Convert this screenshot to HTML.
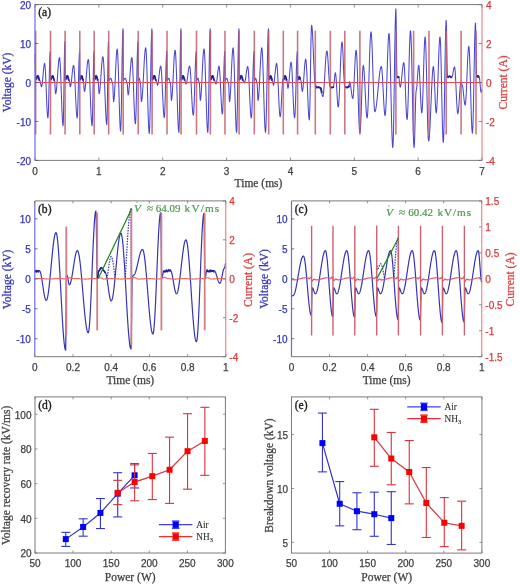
<!DOCTYPE html>
<html><head><meta charset="utf-8"><title>Figure</title>
<style>
html,body{margin:0;padding:0;background:#fff;}
body{width:520px;height:584px;overflow:hidden;}
svg{display:block;}
</style></head><body>
<svg width="520" height="584" viewBox="0 0 520 584">
<rect width="520" height="584" fill="#ffffff"/>
<polyline points="35.05,54.46 35.38,67.11 35.7,79.77 35.95,79.63 36.2,79.2 36.45,78.57 36.7,77.83 36.95,77.08 37.2,76.45 37.45,76.03 37.7,75.88 37.96,76.06 38.23,76.56 38.49,77.32 38.75,78.22 39.01,79.11 39.28,79.87 39.54,80.37 39.8,80.55 40.08,80.97 40.37,82.11 40.65,83.67 40.93,85.23 41.22,86.37 41.5,86.78 41.76,86.39 42.02,85.22 42.27,83.36 42.53,80.94 42.79,78.12 43.05,75.1 43.31,72.08 43.57,69.26 43.83,66.84 44.08,64.98 44.34,63.81 44.6,63.41 44.85,64.21 45.11,66.54 45.36,70.27 45.62,75.19 45.87,81.01 46.12,87.39 46.38,93.97 46.63,100.35 46.88,106.17 47.14,111.09 47.39,114.82 47.65,117.15 47.9,117.94 48.17,115.94 48.43,110.15 48.7,101.29 48.97,90.43 49.23,78.86 49.5,67.99 49.77,59.13 50.03,53.35 50.3,51.34 50.6,79.77 50.88,79.58 51.16,79.04 51.44,78.26 51.71,77.39 51.99,76.61 52.27,76.07 52.55,75.88 52.81,76.06 53.06,76.56 53.32,77.32 53.58,78.22 53.83,79.11 54.09,79.87 54.34,80.37 54.6,80.55 54.85,82.49 55.1,87.17 55.35,91.86 55.6,93.8 55.86,93.4 56.12,92.23 56.38,90.34 56.64,87.8 56.9,84.74 57.16,81.28 57.42,77.58 57.68,73.79 57.94,70.09 58.2,66.63 58.46,63.56 58.72,61.03 58.98,59.14 59.24,57.97 59.5,57.57 59.76,58.43 60.01,60.95 60.27,65.01 60.53,70.4 60.79,76.87 61.04,84.07 61.3,91.65 61.56,99.24 61.81,106.44 62.07,112.9 62.33,118.3 62.59,122.36 62.84,124.88 63.1,125.73 63.36,121.57 63.61,109.9 63.87,93.03 64.13,74.31 64.39,57.44 64.64,45.77 64.9,41.6 65.2,79.77 65.45,79.63 65.7,79.2 65.95,78.57 66.2,77.83 66.45,77.08 66.7,76.45 66.95,76.03 67.2,75.88 67.46,76.06 67.72,76.56 67.99,77.32 68.25,78.22 68.51,79.11 68.77,79.87 69.04,80.37 69.3,80.55 69.55,81.47 69.8,83.67 70.05,85.87 70.3,86.78 70.55,86.47 70.81,85.56 71.06,84.09 71.32,82.16 71.57,79.87 71.82,77.36 72.08,74.78 72.33,72.27 72.58,69.99 72.84,68.06 73.09,66.59 73.35,65.67 73.6,65.36 73.86,66.02 74.11,67.97 74.37,71.1 74.63,75.26 74.89,80.25 75.14,85.8 75.4,91.65 75.66,97.5 75.91,103.06 76.17,108.05 76.43,112.21 76.69,115.34 76.94,117.29 77.2,117.94 77.47,115.94 77.73,110.15 78,101.29 78.27,90.43 78.53,78.86 78.8,67.99 79.07,59.13 79.33,53.35 79.6,51.34 79.9,79.77 80.18,79.51 80.47,78.8 80.75,77.83 81.03,76.85 81.32,76.14 81.6,75.88 81.86,76.11 82.11,76.76 82.37,77.7 82.63,78.74 82.89,79.67 83.14,80.32 83.4,80.55 83.65,82.15 83.9,86.01 84.15,89.86 84.4,91.46 84.66,91.11 84.92,90.08 85.18,88.41 85.44,86.17 85.7,83.47 85.96,80.42 86.22,77.16 86.48,73.82 86.74,70.55 87,67.5 87.26,64.8 87.52,62.57 87.78,60.9 88.04,59.87 88.3,59.52 88.55,60.24 88.81,62.38 89.06,65.84 89.31,70.47 89.57,76.07 89.82,82.4 90.07,89.17 90.33,96.09 90.58,102.86 90.83,109.18 91.09,114.78 91.34,119.41 91.59,122.87 91.85,125.01 92.1,125.73 92.37,122.05 92.64,111.73 92.91,96.81 93.19,80.26 93.46,65.35 93.73,55.02 94,51.34 94.3,79.77 94.56,79.58 94.83,79.04 95.09,78.26 95.36,77.39 95.62,76.61 95.89,76.07 96.15,75.88 96.43,76.11 96.71,76.76 96.99,77.7 97.26,78.74 97.54,79.67 97.82,80.32 98.1,80.55 98.35,82.49 98.6,87.17 98.85,91.86 99.1,93.8 99.35,93.39 99.61,92.2 99.86,90.26 100.11,87.67 100.37,84.54 100.62,81.01 100.87,77.23 101.13,73.36 101.38,69.58 101.63,66.04 101.89,62.91 102.14,60.33 102.39,58.39 102.65,57.2 102.9,56.79 103.16,57.53 103.42,59.72 103.68,63.26 103.94,68.01 104.2,73.74 104.46,80.21 104.72,87.14 104.98,94.22 105.24,101.15 105.5,107.62 105.76,113.35 106.02,118.09 106.28,121.64 106.54,123.83 106.8,124.57 107.08,119.01 107.37,103.83 107.65,83.08 107.93,62.34 108.22,47.16 108.5,41.6 108.8,80.55 109.06,80.44 109.33,80.11 109.59,79.64 109.86,79.12 110.12,78.66 110.39,78.33 110.65,78.22 110.93,78.43 111.21,79.02 111.49,79.88 111.76,80.83 112.04,81.69 112.32,82.29 112.6,82.5 112.85,85.3 113.1,92.04 113.35,98.79 113.6,101.59 113.86,100.93 114.11,98.98 114.37,95.85 114.63,91.69 114.89,86.7 115.14,81.14 115.4,75.29 115.66,69.44 115.91,63.89 116.17,58.9 116.43,54.74 116.69,51.61 116.94,49.66 117.2,49 117.46,50.2 117.72,53.71 117.98,59.34 118.25,66.75 118.51,75.52 118.77,85.14 119.03,95.05 119.29,104.67 119.55,113.44 119.82,120.85 120.08,126.48 120.34,129.99 120.6,131.19 120.87,128.1 121.13,119.2 121.4,105.58 121.67,88.86 121.93,71.07 122.2,54.36 122.47,40.73 122.73,31.84 123,28.75 123.3,80.55 123.56,80.44 123.83,80.11 124.09,79.64 124.36,79.12 124.62,78.66 124.89,78.33 125.15,78.22 125.43,78.43 125.71,79.02 125.99,79.88 126.26,80.83 126.54,81.69 126.82,82.29 127.1,82.5 127.43,85.62 127.77,91.85 128.1,94.96 128.36,94.5 128.63,93.11 128.89,90.89 129.16,87.92 129.42,84.38 129.69,80.43 129.95,76.27 130.21,72.11 130.48,68.16 130.74,64.61 131.01,61.65 131.27,59.42 131.54,58.04 131.8,57.57 132.06,58.4 132.31,60.85 132.57,64.8 132.83,70.04 133.09,76.31 133.34,83.31 133.6,90.68 133.86,98.05 134.11,105.04 134.37,111.32 134.63,116.56 134.89,120.51 135.14,122.96 135.4,123.79 135.66,121.78 135.92,115.94 136.18,106.85 136.44,95.39 136.7,82.69 136.96,70 137.22,58.54 137.48,49.45 137.74,43.61 138,41.6 138.3,80.55 138.55,80.21 138.8,79.38 139.05,78.56 139.3,78.22 139.57,78.84 139.85,80.36 140.12,81.87 140.4,82.5 140.65,85.3 140.9,92.04 141.15,98.79 141.4,101.59 141.65,101.13 141.91,99.77 142.16,97.56 142.41,94.57 142.66,90.91 142.92,86.69 143.17,82.06 143.42,77.19 143.68,72.23 143.93,67.36 144.18,62.73 144.44,58.51 144.69,54.85 144.94,51.86 145.19,49.65 145.45,48.29 145.7,47.83 145.96,48.91 146.21,52.08 146.47,57.18 146.73,63.97 146.99,72.09 147.24,81.15 147.5,90.68 147.76,100.21 148.01,109.27 148.27,117.39 148.53,124.18 148.79,129.28 149.04,132.45 149.3,133.52 149.56,130.96 149.82,123.52 150.08,111.93 150.34,97.33 150.6,81.14 150.86,64.95 151.12,50.34 151.38,38.75 151.64,31.31 151.9,28.75 152.2,79.77 152.45,79.63 152.7,79.2 152.95,78.57 153.2,77.83 153.45,77.08 153.7,76.45 153.95,76.03 154.2,75.88 154.46,76.06 154.72,76.56 154.99,77.32 155.25,78.22 155.51,79.11 155.77,79.87 156.04,80.37 156.3,80.55 156.6,81.24 156.9,82.89 157.2,84.54 157.5,85.23 157.77,84.9 158.03,83.95 158.3,82.43 158.57,80.46 158.83,78.15 159.1,75.68 159.37,73.21 159.63,70.91 159.9,68.94 160.17,67.42 160.43,66.47 160.7,66.14 160.96,66.79 161.21,68.69 161.47,71.75 161.73,75.82 161.99,80.69 162.24,86.13 162.5,91.85 162.76,97.57 163.01,103 163.27,107.88 163.53,111.95 163.79,115.01 164.04,116.91 164.3,117.56 164.55,115.93 164.8,111.23 165.05,103.91 165.3,94.68 165.55,84.45 165.8,74.22 166.05,64.99 166.3,57.66 166.55,52.96 166.8,51.34 167.1,80.55 167.37,80.4 167.63,79.97 167.9,79.38 168.17,78.8 168.43,78.37 168.7,78.22 168.98,78.5 169.27,79.29 169.55,80.36 169.83,81.43 170.12,82.21 170.4,82.5 170.65,85.12 170.9,91.46 171.15,97.79 171.4,100.42 171.66,99.79 171.93,97.93 172.19,94.94 172.46,90.96 172.72,86.19 172.99,80.88 173.25,75.29 173.51,69.7 173.78,64.39 174.04,59.63 174.31,55.65 174.57,52.66 174.84,50.8 175.1,50.17 175.35,51.07 175.61,53.72 175.86,58.02 176.11,63.77 176.37,70.72 176.62,78.57 176.87,86.97 177.13,95.56 177.38,103.96 177.63,111.81 177.89,118.76 178.14,124.51 178.39,128.8 178.65,131.46 178.9,132.36 179.15,128.41 179.4,117.18 179.65,100.38 179.9,80.55 180.15,60.73 180.4,43.92 180.65,32.69 180.9,28.75 181.2,79.77 181.46,79.58 181.73,79.04 181.99,78.26 182.26,77.39 182.52,76.61 182.79,76.07 183.05,75.88 183.33,76.11 183.61,76.76 183.89,77.7 184.16,78.74 184.44,79.67 184.72,80.32 185,80.55 185.25,81.07 185.5,82.31 185.75,83.54 186,84.06 186.26,83.83 186.51,83.17 186.77,82.1 187.03,80.69 187.29,78.99 187.54,77.09 187.8,75.1 188.06,73.11 188.31,71.21 188.57,69.51 188.83,68.1 189.09,67.03 189.34,66.37 189.6,66.14 189.86,66.76 190.13,68.57 190.39,71.49 190.66,75.38 190.92,80.03 191.19,85.22 191.45,90.68 191.71,96.14 191.98,101.33 192.24,105.98 192.51,109.86 192.77,112.79 193.04,114.6 193.3,115.22 193.55,114.13 193.8,110.94 194.05,105.86 194.3,99.25 194.55,91.55 194.8,83.28 195.05,75.01 195.3,67.31 195.55,60.69 195.8,55.62 196.05,52.43 196.3,51.34 196.6,80.55 196.86,80.33 197.12,79.75 197.38,79.02 197.64,78.44 197.9,78.22 198.18,78.62 198.46,79.7 198.74,81.02 199.02,82.09 199.3,82.5 199.55,85.12 199.8,91.46 200.05,97.79 200.3,100.42 200.56,99.77 200.83,97.87 201.09,94.81 201.36,90.74 201.62,85.86 201.89,80.43 202.15,74.71 202.41,68.99 202.68,63.56 202.94,58.68 203.21,54.61 203.47,51.55 203.74,49.65 204,49 204.25,49.91 204.51,52.61 204.76,56.96 205.01,62.79 205.27,69.84 205.52,77.8 205.77,86.32 206.03,95.04 206.28,103.56 206.53,111.52 206.79,118.57 207.04,124.4 207.29,128.75 207.55,131.45 207.8,132.36 208.07,129.23 208.33,120.24 208.6,106.45 208.87,89.55 209.13,71.56 209.4,54.65 209.67,40.87 209.93,31.87 210.2,28.75 210.5,79.77 210.75,79.63 211,79.2 211.25,78.57 211.5,77.83 211.75,77.08 212,76.45 212.25,76.03 212.5,75.88 212.76,76.06 213.03,76.56 213.29,77.32 213.55,78.22 213.81,79.11 214.07,79.87 214.34,80.37 214.6,80.55 214.88,80.89 215.16,81.76 215.44,82.85 215.72,83.72 216,84.06 216.25,83.75 216.5,82.86 216.75,81.43 217,79.58 217.25,77.42 217.5,75.1 217.75,72.78 218,70.62 218.25,68.76 218.5,67.34 218.75,66.45 219,66.14 219.26,66.84 219.52,68.88 219.78,72.17 220.05,76.49 220.31,81.6 220.57,87.21 220.83,92.98 221.09,98.59 221.35,103.7 221.62,108.03 221.88,111.31 222.14,113.35 222.4,114.05 222.67,112.16 222.93,106.71 223.2,98.37 223.47,88.14 223.73,77.25 224,67.02 224.27,58.68 224.53,53.23 224.8,51.34 225.1,80.55 225.38,80.4 225.65,79.97 225.93,79.38 226.2,78.8 226.47,78.37 226.75,78.22 227,78.43 227.25,79.02 227.5,79.88 227.75,80.83 228,81.69 228.25,82.29 228.5,82.5 228.75,85.3 229,92.04 229.25,98.79 229.5,101.59 229.76,100.91 230.01,98.92 230.27,95.72 230.53,91.47 230.79,86.37 231.04,80.69 231.3,74.71 231.56,68.73 231.81,63.05 232.07,57.95 232.33,53.7 232.59,50.5 232.84,48.51 233.1,47.83 233.35,48.89 233.6,52.02 233.85,57.05 234.1,63.75 234.35,71.76 234.6,80.69 234.85,90.1 235.1,99.5 235.35,108.43 235.6,116.44 235.85,123.14 236.1,128.17 236.35,131.3 236.6,132.36 236.86,129.23 237.11,120.24 237.37,106.45 237.62,89.55 237.88,71.56 238.13,54.65 238.39,40.87 238.64,31.87 238.9,28.75 239.2,79.77 239.45,79.63 239.7,79.2 239.95,78.57 240.2,77.83 240.45,77.08 240.7,76.45 240.95,76.03 241.2,75.88 241.46,76.06 241.72,76.56 241.99,77.32 242.25,78.22 242.51,79.11 242.77,79.87 243.04,80.37 243.3,80.55 243.57,80.89 243.85,81.72 244.12,82.55 244.4,82.89 244.65,82.65 244.91,81.95 245.16,80.83 245.42,79.36 245.67,77.61 245.92,75.7 246.18,73.72 246.43,71.81 246.68,70.06 246.94,68.59 247.19,67.47 247.45,66.77 247.7,66.53 247.96,67.18 248.21,69.08 248.47,72.14 248.73,76.21 248.99,81.08 249.24,86.52 249.5,92.24 249.76,97.96 250.01,103.39 250.27,108.27 250.53,112.34 250.79,115.4 251.04,117.3 251.3,117.94 251.55,116.6 251.81,112.66 252.06,106.45 252.32,98.48 252.57,89.38 252.83,79.9 253.08,70.81 253.34,62.83 253.59,56.63 253.85,52.69 254.1,51.34 254.4,80.55 254.65,80.33 254.9,79.75 255.15,79.02 255.4,78.44 255.65,78.22 255.92,78.62 256.19,79.7 256.46,81.02 256.73,82.09 257,82.5 257.25,85.12 257.5,91.46 257.75,97.79 258,100.42 258.25,99.84 258.51,98.14 258.76,95.4 259.01,91.72 259.27,87.27 259.52,82.25 259.77,76.87 260.03,71.38 260.28,66 260.53,60.98 260.79,56.53 261.04,52.86 261.29,50.11 261.55,48.41 261.8,47.83 262.06,48.89 262.33,52.02 262.59,57.05 262.86,63.75 263.12,71.76 263.39,80.69 263.65,90.1 263.91,99.5 264.18,108.43 264.44,116.44 264.71,123.14 264.97,128.17 265.24,131.3 265.5,132.36 265.75,130.59 266,125.42 266.25,117.18 266.5,106.45 266.75,93.96 267,80.55 267.25,67.14 267.5,54.65 267.75,43.92 268,35.69 268.25,30.51 268.5,28.75 268.8,79.77 269.05,79.58 269.3,79.04 269.55,78.26 269.8,77.39 270.05,76.61 270.3,76.07 270.55,75.88 270.81,76.11 271.08,76.76 271.34,77.7 271.61,78.74 271.87,79.67 272.14,80.32 272.4,80.55 272.65,81.24 272.9,82.89 273.15,84.54 273.4,85.23 273.67,84.85 273.93,83.77 274.2,82.03 274.47,79.77 274.73,77.14 275,74.32 275.27,71.5 275.53,68.87 275.8,66.61 276.07,64.88 276.33,63.79 276.6,63.41 276.86,64.08 277.11,66.06 277.37,69.24 277.63,73.46 277.89,78.52 278.14,84.16 278.4,90.1 278.66,96.03 278.91,101.67 279.17,106.73 279.43,110.96 279.69,114.13 279.94,116.11 280.2,116.78 280.46,116 280.73,113.75 280.99,110.19 281.25,105.62 281.52,100.41 281.78,94.97 282.05,89.76 282.31,85.19 282.57,81.63 282.84,79.38 283.1,78.61 283.4,79.77 283.68,79.51 283.97,78.8 284.25,77.83 284.53,76.85 284.82,76.14 285.1,75.88 285.36,76.11 285.61,76.76 285.87,77.7 286.13,78.74 286.39,79.67 286.64,80.32 286.9,80.55 287.15,81.69 287.4,84.45 287.65,87.2 287.9,88.34 288.17,87.9 288.43,86.59 288.7,84.52 288.97,81.82 289.23,78.67 289.5,75.29 289.77,71.92 290.03,68.77 290.3,66.07 290.57,63.99 290.83,62.69 291.1,62.25 291.35,62.94 291.6,65 291.85,68.32 292.1,72.73 292.35,78.01 292.6,83.9 292.85,90.1 293.1,96.29 293.35,102.18 293.6,107.46 293.85,111.87 294.1,115.19 294.35,117.25 294.6,117.94 294.85,116.6 295.11,112.66 295.36,106.45 295.62,98.48 295.87,89.38 296.13,79.9 296.38,70.81 296.64,62.83 296.89,56.63 297.15,52.69 297.4,51.34 297.7,79.77 297.97,79.58 298.23,79.04 298.5,78.31 298.77,77.58 299.03,77.05 299.3,76.85 299.57,77.1 299.83,77.78 300.1,78.7 300.37,79.63 300.63,80.3 300.9,80.55 301.18,81.59 301.46,84.32 301.74,87.69 302.02,90.42 302.3,91.46 302.56,90.99 302.82,89.61 303.08,87.39 303.35,84.48 303.61,81.03 303.87,77.24 304.13,73.35 304.39,69.56 304.65,66.11 304.92,63.2 305.18,60.98 305.44,59.6 305.7,59.13 305.96,59.89 306.21,62.14 306.47,65.76 306.73,70.57 306.99,76.33 307.24,82.75 307.5,89.51 307.76,96.27 308.01,102.69 308.27,108.45 308.53,113.26 308.79,116.88 309.04,119.13 309.3,119.89 309.56,117.04 309.81,108.82 310.07,96.23 310.32,80.79 310.58,64.35 310.83,48.91 311.09,36.32 311.34,28.1 311.6,25.24 311.86,25.98 312.13,28.16 312.39,31.66 312.66,36.32 312.92,41.89 313.19,48.11 313.45,54.65 313.71,61.19 313.98,67.41 314.24,72.99 314.51,77.64 314.77,81.15 315.04,83.32 315.3,84.06 315.65,85.81 316,87.56 316.25,87.55 316.5,87.53 316.75,87.48 317,87.43 317.25,87.37 317.5,87.31 317.75,87.25 318,87.21 318.25,87.18 318.5,87.17 318.75,87.2 319,87.29 319.25,87.41 319.5,87.56 319.75,87.71 320,87.84 320.25,87.92 320.5,87.95 320.76,88.21 321.01,88.96 321.27,90.1 321.52,91.49 321.78,92.98 322.03,94.38 322.29,95.52 322.54,96.26 322.8,96.52 323.06,96.08 323.31,94.79 323.57,92.68 323.82,89.85 324.08,86.4 324.34,82.46 324.59,78.18 324.85,73.74 325.11,69.29 325.36,65.02 325.62,61.08 325.88,57.62 326.13,54.79 326.39,52.68 326.64,51.39 326.9,50.95 327.17,51.56 327.43,53.35 327.7,56.2 327.97,59.91 328.23,64.23 328.5,68.87 328.77,73.5 329.03,77.83 329.3,81.54 329.57,84.38 329.83,86.17 330.1,86.78 330.38,86.86 330.66,87.05 330.94,87.29 331.22,87.49 331.5,87.56 331.76,87.54 332.01,87.49 332.27,87.41 332.53,87.33 332.79,87.25 333.04,87.19 333.3,87.17 333.56,86.63 333.82,85.06 334.09,82.73 334.35,79.97 334.61,77.21 334.88,74.87 335.14,73.31 335.4,72.76 335.65,73.46 335.91,75.48 336.16,78.68 336.42,82.78 336.67,87.46 336.93,92.34 337.18,97.02 337.44,101.12 337.69,104.32 337.95,106.34 338.2,107.04 338.45,106.33 338.71,104.23 338.96,100.83 339.21,96.28 339.47,90.78 339.72,84.57 339.97,77.91 340.23,71.12 340.48,64.47 340.73,58.25 340.99,52.75 341.24,48.2 341.49,44.8 341.75,42.7 342,41.99 342.25,42.9 342.51,45.55 342.76,49.72 343.02,55.08 343.27,61.2 343.53,67.58 343.78,73.69 344.04,79.05 344.29,83.23 344.55,85.88 344.8,86.78 345.07,86.81 345.35,86.9 345.62,87.02 345.9,87.17 346.18,87.32 346.45,87.45 346.73,87.53 347,87.56 347.26,87.52 347.51,87.42 347.77,87.26 348.03,87.09 348.29,86.93 348.54,86.82 348.8,86.78 349.07,85.52 349.33,82.99 349.6,81.72 349.87,82.01 350.13,82.84 350.4,84.17 350.67,85.91 350.93,87.93 351.2,90.1 351.47,92.26 351.73,94.28 352,96.02 352.27,97.35 352.53,98.18 352.8,98.47 353.05,97.77 353.31,95.7 353.56,92.4 353.82,88.04 354.07,82.88 354.32,77.23 354.58,71.41 354.83,65.76 355.08,60.6 355.34,56.24 355.59,52.94 355.85,50.87 356.1,50.17 356.35,51.08 356.61,53.76 356.86,58.09 357.11,63.9 357.37,70.91 357.62,78.83 357.87,87.32 358.13,95.99 358.38,104.47 358.63,112.39 358.89,119.41 359.14,125.21 359.39,129.55 359.65,132.23 359.9,133.13 360.16,132.15 360.42,129.25 360.68,124.61 360.95,118.5 361.21,111.26 361.47,103.33 361.73,95.16 361.99,87.23 362.25,80 362.52,73.88 362.78,69.24 363.04,66.35 363.3,65.36 363.55,65.94 363.81,67.63 364.06,70.38 364.31,74.06 364.57,78.51 364.82,83.53 365.07,88.91 365.33,94.4 365.58,99.78 365.83,104.8 366.09,109.25 366.34,112.92 366.59,115.67 366.85,117.37 367.1,117.94 367.36,117 367.62,114.22 367.88,109.72 368.14,103.7 368.4,96.42 368.66,88.2 368.92,79.4 369.18,70.41 369.44,61.6 369.7,53.38 369.96,46.11 370.22,40.08 370.48,35.59 370.74,32.81 371,31.86 371.25,32.74 371.51,35.32 371.76,39.49 372.01,45.07 372.27,51.83 372.52,59.45 372.77,67.62 373.03,75.96 373.28,84.13 373.53,91.75 373.79,98.5 374.04,104.09 374.29,108.26 374.55,110.84 374.8,111.71 375.05,111.55 375.3,111.06 375.55,110.24 375.8,109.12 376.05,107.71 376.3,106.03 376.55,104.1 376.8,101.95 377.05,99.62 377.3,97.13 377.55,94.53 377.8,91.84 378.05,89.12 378.3,86.4 378.55,83.72 378.8,81.11 379.05,78.62 379.3,76.29 379.55,74.14 379.8,72.21 380.05,70.53 380.3,69.12 380.55,68 380.8,67.19 381.05,66.7 381.3,66.53 381.55,67.07 381.81,68.65 382.06,71.22 382.31,74.65 382.57,78.8 382.82,83.49 383.07,88.5 383.33,93.63 383.58,98.65 383.83,103.34 384.09,107.49 384.34,110.92 384.59,113.49 384.85,115.07 385.1,115.61 385.36,114.71 385.62,112.05 385.88,107.76 386.14,102.01 386.4,95.06 386.66,87.21 386.92,78.81 387.18,70.22 387.44,61.82 387.7,53.97 387.96,47.02 388.22,41.27 388.48,36.98 388.74,34.32 389,33.42 389.25,34.67 389.51,38.36 389.76,44.32 390.01,52.3 390.27,61.95 390.52,72.85 390.77,84.52 391.03,96.45 391.28,108.12 391.53,119.02 391.79,128.67 392.04,136.65 392.29,142.61 392.55,146.3 392.8,147.55 393.06,145.18 393.32,138.26 393.57,127.24 393.83,112.88 394.09,96.16 394.35,78.22 394.61,60.27 394.87,43.55 395.12,29.19 395.38,18.17 395.64,11.25 395.9,8.88 396.17,18.92 396.45,43.16 396.73,67.4 397,77.44 397.28,77.41 397.57,77.34 397.85,77.24 398.13,77.14 398.42,77.07 398.7,77.05 398.95,77.73 399.2,79.58 399.45,82.11 399.7,84.64 399.95,86.5 400.2,87.17 400.46,86.87 400.71,85.96 400.97,84.5 401.23,82.55 401.49,80.23 401.74,77.63 402,74.9 402.26,72.17 402.51,69.58 402.77,67.25 403.03,65.31 403.29,63.85 403.54,62.94 403.8,62.64 404.05,63.46 404.31,65.89 404.56,69.79 404.82,74.92 405.07,80.99 405.32,87.64 405.58,94.5 405.83,101.15 406.08,107.22 406.34,112.35 406.59,116.25 406.85,118.68 407.1,119.5 407.36,118.21 407.62,114.42 407.88,108.34 408.15,100.32 408.41,90.85 408.67,80.45 408.93,69.75 409.19,59.35 409.45,49.88 409.72,41.86 409.98,35.78 410.24,31.99 410.5,30.7 410.76,32.16 411.01,36.48 411.27,43.44 411.53,52.69 411.79,63.77 412.04,76.12 412.3,89.12 412.56,102.12 412.81,114.47 413.07,125.55 413.33,134.8 413.59,141.76 413.84,146.08 414.1,147.55 414.36,145.37 414.62,139.16 414.89,129.87 415.15,118.92 415.41,107.96 415.68,98.68 415.94,92.47 416.2,90.29 416.45,89.68 416.7,87.91 416.95,85.15 417.2,81.68 417.45,77.83 417.7,73.97 417.95,70.5 418.2,67.74 418.45,65.97 418.7,65.36 418.96,66.17 419.22,68.55 419.48,72.32 419.73,77.24 419.99,82.97 420.25,89.12 420.51,95.27 420.77,101 421.02,105.92 421.28,109.7 421.54,112.07 421.8,112.88 422.05,111.78 422.31,108.53 422.56,103.33 422.82,96.48 423.07,88.37 423.32,79.48 423.58,70.33 423.83,61.44 424.08,53.33 424.34,46.48 424.59,41.28 424.85,38.03 425.1,36.93 425.35,38.23 425.6,42.08 425.85,48.27 426.1,56.51 426.35,66.37 426.6,77.36 426.85,88.93 427.1,100.5 427.35,111.49 427.6,121.35 427.85,129.58 428.1,135.78 428.35,139.62 428.6,140.93 428.85,140.42 429.11,138.91 429.36,136.44 429.61,133.08 429.86,128.92 430.12,124.07 430.37,118.67 430.62,112.86 430.87,106.8 431.13,100.66 431.38,94.6 431.63,88.79 431.88,83.38 432.14,78.53 432.39,74.37 432.64,71.01 432.89,68.55 433.15,67.04 433.4,66.53 433.65,67.47 433.91,70.21 434.16,74.53 434.42,80.08 434.67,86.41 434.93,93 435.18,99.33 435.44,104.88 435.69,109.2 435.95,111.94 436.2,112.88 436.45,112.05 436.71,109.6 436.96,105.63 437.21,100.32 437.47,93.89 437.72,86.64 437.97,78.87 438.23,70.94 438.48,63.17 438.73,55.92 438.99,49.49 439.24,44.18 439.49,40.21 439.75,37.76 440,36.93 440.25,38.46 440.51,42.97 440.76,50.2 441.02,59.72 441.27,70.99 441.52,83.34 441.78,96.07 442.03,108.42 442.28,119.69 442.54,129.21 442.79,136.44 443.05,140.95 443.3,142.48 443.56,140.01 443.83,132.78 444.09,121.38 444.35,106.73 444.62,90.03 444.88,72.63 445.15,55.93 445.41,41.29 445.67,29.89 445.94,22.66 446.2,20.18 446.46,25.65 446.72,39.96 446.98,57.65 447.24,71.97 447.5,77.44 447.75,77.39 448,77.27 448.25,77.08 448.5,76.85 448.75,76.63 449,76.44 449.25,76.31 449.5,76.27 449.76,76.3 450.01,76.4 450.27,76.56 450.52,76.75 450.78,76.95 451.03,77.14 451.29,77.3 451.54,77.4 451.8,77.44 452.07,77.18 452.34,76.43 452.61,75.27 452.88,73.8 453.15,72.18 453.42,70.55 453.69,69.09 453.96,67.92 454.23,67.18 454.5,66.92 454.75,67.6 455.01,69.6 455.26,72.8 455.52,77.01 455.77,82 456.02,87.47 456.28,93.11 456.53,98.58 456.78,103.57 457.04,107.78 457.29,110.98 457.55,112.98 457.8,113.66 458.07,113.12 458.33,111.52 458.6,108.98 458.87,105.68 459.13,101.82 459.4,97.69 459.67,93.56 459.93,89.71 460.2,86.4 460.47,83.86 460.73,82.27 461,81.72 461.25,82.12 461.5,83.08 461.75,84.05 462,84.45 462.27,84.8 462.53,85.83 462.8,87.47 463.07,89.61 463.33,92.1 463.6,94.77 463.87,97.44 464.13,99.93 464.4,102.07 464.67,103.71 464.93,104.74 465.2,105.09 465.46,104.35 465.71,102.18 465.97,98.68 466.23,94.02 466.49,88.44 466.74,82.23 467,75.68 467.26,69.14 467.51,62.92 467.77,57.35 468.03,52.69 468.29,49.19 468.54,47.01 468.8,46.28 469.06,47.37 469.31,50.58 469.57,55.75 469.83,62.63 470.09,70.86 470.34,80.04 470.6,89.71 470.86,99.37 471.11,108.55 471.37,116.78 471.63,123.66 471.89,128.83 472.14,132.05 472.4,133.13 472.66,131.26 472.92,125.75 473.17,116.99 473.43,105.58 473.69,92.29 473.95,78.02 474.21,63.76 474.47,50.46 474.73,39.05 474.98,30.29 475.24,24.78 475.5,22.91 475.77,30.84 476.05,49.98 476.33,69.12 476.6,77.05 476.88,76.94 477.16,76.64 477.44,76.28 477.72,75.99 478,75.88 478.3,76.11 478.6,76.66 478.9,77.21 479.2,77.44 479.47,78.17 479.74,80.22 480.01,83.19 480.29,86.48 480.56,89.45 480.83,91.5 481.1,92.24 481.4,91.56 481.7,90.19 482,89.51" fill="none" stroke="#4a46cf" stroke-width="1.05" stroke-linejoin="round" />
<polyline points="35.7,79.77 35.95,79.63 36.2,79.2 36.45,78.57 36.7,77.83 36.95,77.08 37.2,76.45 37.45,76.03 37.7,75.88 37.96,76.06 38.23,76.56 38.49,77.32 38.75,78.22 39.01,79.11 39.28,79.87 39.54,80.37 39.8,80.55" fill="none" stroke="#20209a" stroke-width="1.9" stroke-linejoin="round" />
<polyline points="50.6,79.77 50.88,79.58 51.16,79.04 51.44,78.26 51.71,77.39 51.99,76.61 52.27,76.07 52.55,75.88 52.81,76.06 53.06,76.56 53.32,77.32 53.58,78.22 53.83,79.11 54.09,79.87 54.34,80.37 54.6,80.55" fill="none" stroke="#20209a" stroke-width="1.9" stroke-linejoin="round" />
<polyline points="65.2,79.77 65.45,79.63 65.7,79.2 65.95,78.57 66.2,77.83 66.45,77.08 66.7,76.45 66.95,76.03 67.2,75.88 67.46,76.06 67.72,76.56 67.99,77.32 68.25,78.22 68.51,79.11 68.77,79.87 69.04,80.37 69.3,80.55" fill="none" stroke="#20209a" stroke-width="1.9" stroke-linejoin="round" />
<polyline points="79.9,79.77 80.18,79.51 80.47,78.8 80.75,77.83 81.03,76.85 81.32,76.14 81.6,75.88 81.86,76.11 82.11,76.76 82.37,77.7 82.63,78.74 82.89,79.67 83.14,80.32 83.4,80.55" fill="none" stroke="#20209a" stroke-width="1.9" stroke-linejoin="round" />
<polyline points="94.3,79.77 94.56,79.58 94.83,79.04 95.09,78.26 95.36,77.39 95.62,76.61 95.89,76.07 96.15,75.88 96.43,76.11 96.71,76.76 96.99,77.7 97.26,78.74 97.54,79.67 97.82,80.32 98.1,80.55" fill="none" stroke="#20209a" stroke-width="1.9" stroke-linejoin="round" />
<polyline points="152.2,79.77 152.45,79.63 152.7,79.2 152.95,78.57 153.2,77.83 153.45,77.08 153.7,76.45 153.95,76.03 154.2,75.88 154.46,76.06 154.72,76.56 154.99,77.32 155.25,78.22 155.51,79.11 155.77,79.87 156.04,80.37 156.3,80.55" fill="none" stroke="#20209a" stroke-width="1.9" stroke-linejoin="round" />
<polyline points="181.2,79.77 181.46,79.58 181.73,79.04 181.99,78.26 182.26,77.39 182.52,76.61 182.79,76.07 183.05,75.88 183.33,76.11 183.61,76.76 183.89,77.7 184.16,78.74 184.44,79.67 184.72,80.32 185,80.55" fill="none" stroke="#20209a" stroke-width="1.9" stroke-linejoin="round" />
<polyline points="210.5,79.77 210.75,79.63 211,79.2 211.25,78.57 211.5,77.83 211.75,77.08 212,76.45 212.25,76.03 212.5,75.88 212.76,76.06 213.03,76.56 213.29,77.32 213.55,78.22 213.81,79.11 214.07,79.87 214.34,80.37 214.6,80.55" fill="none" stroke="#20209a" stroke-width="1.9" stroke-linejoin="round" />
<polyline points="239.2,79.77 239.45,79.63 239.7,79.2 239.95,78.57 240.2,77.83 240.45,77.08 240.7,76.45 240.95,76.03 241.2,75.88 241.46,76.06 241.72,76.56 241.99,77.32 242.25,78.22 242.51,79.11 242.77,79.87 243.04,80.37 243.3,80.55" fill="none" stroke="#20209a" stroke-width="1.9" stroke-linejoin="round" />
<polyline points="268.8,79.77 269.05,79.58 269.3,79.04 269.55,78.26 269.8,77.39 270.05,76.61 270.3,76.07 270.55,75.88 270.81,76.11 271.08,76.76 271.34,77.7 271.61,78.74 271.87,79.67 272.14,80.32 272.4,80.55" fill="none" stroke="#20209a" stroke-width="1.9" stroke-linejoin="round" />
<polyline points="283.4,79.77 283.68,79.51 283.97,78.8 284.25,77.83 284.53,76.85 284.82,76.14 285.1,75.88 285.36,76.11 285.61,76.76 285.87,77.7 286.13,78.74 286.39,79.67 286.64,80.32 286.9,80.55" fill="none" stroke="#20209a" stroke-width="1.9" stroke-linejoin="round" />
<polyline points="297.7,79.77 297.97,79.58 298.23,79.04 298.5,78.31 298.77,77.58 299.03,77.05 299.3,76.85 299.57,77.1 299.83,77.78 300.1,78.7 300.37,79.63" fill="none" stroke="#20209a" stroke-width="1.9" stroke-linejoin="round" />
<polyline points="315.65,85.81 316,87.56 316.25,87.55 316.5,87.53 316.75,87.48 317,87.43 317.25,87.37 317.5,87.31 317.75,87.25 318,87.21 318.25,87.18 318.5,87.17 318.75,87.2 319,87.29 319.25,87.41 319.5,87.56 319.75,87.71 320,87.84 320.25,87.92 320.5,87.95 320.76,88.21 321.01,88.96 321.27,90.1 321.52,91.49 321.78,92.98" fill="none" stroke="#20209a" stroke-width="1.9" stroke-linejoin="round" />
<polyline points="330.38,86.86 330.66,87.05 330.94,87.29 331.22,87.49 331.5,87.56 331.76,87.54 332.01,87.49 332.27,87.41 332.53,87.33 332.79,87.25 333.04,87.19 333.3,87.17 333.56,86.63" fill="none" stroke="#20209a" stroke-width="1.9" stroke-linejoin="round" />
<polyline points="345.07,86.81 345.35,86.9 345.62,87.02 345.9,87.17 346.18,87.32 346.45,87.45 346.73,87.53 347,87.56 347.26,87.52 347.51,87.42 347.77,87.26 348.03,87.09 348.29,86.93 348.54,86.82 348.8,86.78 349.07,85.52" fill="none" stroke="#20209a" stroke-width="1.9" stroke-linejoin="round" />
<polyline points="397,77.44 397.28,77.41 397.57,77.34 397.85,77.24 398.13,77.14 398.42,77.07 398.7,77.05 398.95,77.73" fill="none" stroke="#20209a" stroke-width="1.9" stroke-linejoin="round" />
<polyline points="447.5,77.44 447.75,77.39 448,77.27 448.25,77.08 448.5,76.85 448.75,76.63 449,76.44 449.25,76.31 449.5,76.27 449.76,76.3 450.01,76.4 450.27,76.56 450.52,76.75 450.78,76.95 451.03,77.14 451.29,77.3 451.54,77.4 451.8,77.44" fill="none" stroke="#20209a" stroke-width="1.9" stroke-linejoin="round" />
<polyline points="476.6,77.05 476.88,76.94 477.16,76.64 477.44,76.28 477.72,75.99 478,75.88 478.3,76.11 478.6,76.66 478.9,77.21 479.2,77.44" fill="none" stroke="#20209a" stroke-width="1.9" stroke-linejoin="round" />
<line x1="35.6" y1="30.7" x2="35.6" y2="134.5" stroke="#c0606e" stroke-width="1.6" stroke-opacity="0.85"/>
<line x1="50.5" y1="30.7" x2="50.5" y2="134.5" stroke="#c0606e" stroke-width="1.6" stroke-opacity="0.85"/>
<line x1="65.1" y1="30.7" x2="65.1" y2="134.5" stroke="#c0606e" stroke-width="1.6" stroke-opacity="0.85"/>
<line x1="79.8" y1="30.7" x2="79.8" y2="134.5" stroke="#c0606e" stroke-width="1.6" stroke-opacity="0.85"/>
<line x1="94.2" y1="30.7" x2="94.2" y2="134.5" stroke="#c0606e" stroke-width="1.6" stroke-opacity="0.85"/>
<line x1="108.7" y1="30.7" x2="108.7" y2="134.5" stroke="#c0606e" stroke-width="1.6" stroke-opacity="0.85"/>
<line x1="123.2" y1="30.7" x2="123.2" y2="134.5" stroke="#c0606e" stroke-width="1.6" stroke-opacity="0.85"/>
<line x1="138.2" y1="30.7" x2="138.2" y2="134.5" stroke="#c0606e" stroke-width="1.6" stroke-opacity="0.85"/>
<line x1="152.1" y1="30.7" x2="152.1" y2="134.5" stroke="#c0606e" stroke-width="1.6" stroke-opacity="0.85"/>
<line x1="167" y1="30.7" x2="167" y2="134.5" stroke="#c0606e" stroke-width="1.6" stroke-opacity="0.85"/>
<line x1="181.1" y1="30.7" x2="181.1" y2="134.5" stroke="#c0606e" stroke-width="1.6" stroke-opacity="0.85"/>
<line x1="196.5" y1="30.7" x2="196.5" y2="134.5" stroke="#c0606e" stroke-width="1.6" stroke-opacity="0.85"/>
<line x1="210.4" y1="30.7" x2="210.4" y2="134.5" stroke="#c0606e" stroke-width="1.6" stroke-opacity="0.85"/>
<line x1="225" y1="30.7" x2="225" y2="134.5" stroke="#c0606e" stroke-width="1.6" stroke-opacity="0.85"/>
<line x1="239.1" y1="30.7" x2="239.1" y2="134.5" stroke="#c0606e" stroke-width="1.6" stroke-opacity="0.85"/>
<line x1="254.3" y1="30.7" x2="254.3" y2="134.5" stroke="#c0606e" stroke-width="1.6" stroke-opacity="0.85"/>
<line x1="268.7" y1="30.7" x2="268.7" y2="134.5" stroke="#c0606e" stroke-width="1.6" stroke-opacity="0.85"/>
<line x1="283.3" y1="30.7" x2="283.3" y2="134.5" stroke="#c0606e" stroke-width="1.6" stroke-opacity="0.85"/>
<line x1="297.6" y1="30.7" x2="297.6" y2="134.5" stroke="#c0606e" stroke-width="1.6" stroke-opacity="0.85"/>
<line x1="315.3" y1="30.7" x2="315.3" y2="134.5" stroke="#c0606e" stroke-width="1.6" stroke-opacity="0.85"/>
<line x1="330.3" y1="30.7" x2="330.3" y2="134.5" stroke="#c0606e" stroke-width="1.6" stroke-opacity="0.85"/>
<line x1="344.8" y1="30.7" x2="344.8" y2="134.5" stroke="#c0606e" stroke-width="1.6" stroke-opacity="0.85"/>
<line x1="359.9" y1="30.7" x2="359.9" y2="134.5" stroke="#c0606e" stroke-width="1.6" stroke-opacity="0.85"/>
<line x1="395.9" y1="30.7" x2="395.9" y2="134.5" stroke="#c0606e" stroke-width="1.6" stroke-opacity="0.85"/>
<line x1="413.6" y1="30.7" x2="413.6" y2="134.5" stroke="#c0606e" stroke-width="1.6" stroke-opacity="0.85"/>
<line x1="429" y1="30.7" x2="429" y2="134.5" stroke="#c0606e" stroke-width="1.6" stroke-opacity="0.85"/>
<line x1="446.2" y1="30.7" x2="446.2" y2="134.5" stroke="#c0606e" stroke-width="1.6" stroke-opacity="0.85"/>
<line x1="461.1" y1="30.7" x2="461.1" y2="134.5" stroke="#c0606e" stroke-width="1.6" stroke-opacity="0.85"/>
<line x1="476" y1="30.7" x2="476" y2="134.5" stroke="#c0606e" stroke-width="1.6" stroke-opacity="0.85"/>
<line x1="35" y1="82.5" x2="482" y2="82.5" stroke="#e8485c" stroke-width="1.15"/>
<line x1="35" y1="4.6" x2="482" y2="4.6" stroke="#7a7a7a" stroke-width="1"/>
<line x1="35" y1="160.4" x2="482" y2="160.4" stroke="#7a7a7a" stroke-width="1"/>
<line x1="35" y1="4.6" x2="35" y2="160.4" stroke="#6b6bea" stroke-width="1.2"/>
<line x1="482" y1="4.6" x2="482" y2="160.4" stroke="#e07070" stroke-width="1"/>
<line x1="35" y1="160.4" x2="35" y2="157.4" stroke="#7a7a7a" stroke-width="0.8"/>
<line x1="35" y1="4.6" x2="35" y2="7.6" stroke="#7a7a7a" stroke-width="0.8"/>
<text x="35" y="174.6" font-size="10" fill="#404040" stroke="#404040" stroke-width="0.25" font-family="'Liberation Sans', Arial, sans-serif" text-anchor="middle" >0</text>
<line x1="98.86" y1="160.4" x2="98.86" y2="157.4" stroke="#7a7a7a" stroke-width="0.8"/>
<line x1="98.86" y1="4.6" x2="98.86" y2="7.6" stroke="#7a7a7a" stroke-width="0.8"/>
<text x="98.86" y="174.6" font-size="10" fill="#404040" stroke="#404040" stroke-width="0.25" font-family="'Liberation Sans', Arial, sans-serif" text-anchor="middle" >1</text>
<line x1="162.71" y1="160.4" x2="162.71" y2="157.4" stroke="#7a7a7a" stroke-width="0.8"/>
<line x1="162.71" y1="4.6" x2="162.71" y2="7.6" stroke="#7a7a7a" stroke-width="0.8"/>
<text x="162.71" y="174.6" font-size="10" fill="#404040" stroke="#404040" stroke-width="0.25" font-family="'Liberation Sans', Arial, sans-serif" text-anchor="middle" >2</text>
<line x1="226.57" y1="160.4" x2="226.57" y2="157.4" stroke="#7a7a7a" stroke-width="0.8"/>
<line x1="226.57" y1="4.6" x2="226.57" y2="7.6" stroke="#7a7a7a" stroke-width="0.8"/>
<text x="226.57" y="174.6" font-size="10" fill="#404040" stroke="#404040" stroke-width="0.25" font-family="'Liberation Sans', Arial, sans-serif" text-anchor="middle" >3</text>
<line x1="290.43" y1="160.4" x2="290.43" y2="157.4" stroke="#7a7a7a" stroke-width="0.8"/>
<line x1="290.43" y1="4.6" x2="290.43" y2="7.6" stroke="#7a7a7a" stroke-width="0.8"/>
<text x="290.43" y="174.6" font-size="10" fill="#404040" stroke="#404040" stroke-width="0.25" font-family="'Liberation Sans', Arial, sans-serif" text-anchor="middle" >4</text>
<line x1="354.29" y1="160.4" x2="354.29" y2="157.4" stroke="#7a7a7a" stroke-width="0.8"/>
<line x1="354.29" y1="4.6" x2="354.29" y2="7.6" stroke="#7a7a7a" stroke-width="0.8"/>
<text x="354.29" y="174.6" font-size="10" fill="#404040" stroke="#404040" stroke-width="0.25" font-family="'Liberation Sans', Arial, sans-serif" text-anchor="middle" >5</text>
<line x1="418.14" y1="160.4" x2="418.14" y2="157.4" stroke="#7a7a7a" stroke-width="0.8"/>
<line x1="418.14" y1="4.6" x2="418.14" y2="7.6" stroke="#7a7a7a" stroke-width="0.8"/>
<text x="418.14" y="174.6" font-size="10" fill="#404040" stroke="#404040" stroke-width="0.25" font-family="'Liberation Sans', Arial, sans-serif" text-anchor="middle" >6</text>
<line x1="482" y1="160.4" x2="482" y2="157.4" stroke="#7a7a7a" stroke-width="0.8"/>
<line x1="482" y1="4.6" x2="482" y2="7.6" stroke="#7a7a7a" stroke-width="0.8"/>
<text x="482" y="174.6" font-size="10" fill="#404040" stroke="#404040" stroke-width="0.25" font-family="'Liberation Sans', Arial, sans-serif" text-anchor="middle" >7</text>
<line x1="35" y1="4.6" x2="38.4" y2="4.6" stroke="#505070" stroke-width="0.8"/>
<text x="31" y="8.9" font-size="10" fill="#3535b5" stroke="#3535b5" stroke-width="0.25" font-family="'Liberation Sans', Arial, sans-serif" text-anchor="end" >20</text>
<line x1="35" y1="43.55" x2="38.4" y2="43.55" stroke="#505070" stroke-width="0.8"/>
<text x="31" y="47.85" font-size="10" fill="#3535b5" stroke="#3535b5" stroke-width="0.25" font-family="'Liberation Sans', Arial, sans-serif" text-anchor="end" >10</text>
<line x1="35" y1="82.5" x2="38.4" y2="82.5" stroke="#505070" stroke-width="0.8"/>
<text x="31" y="86.8" font-size="10" fill="#3535b5" stroke="#3535b5" stroke-width="0.25" font-family="'Liberation Sans', Arial, sans-serif" text-anchor="end" >0</text>
<line x1="35" y1="121.45" x2="38.4" y2="121.45" stroke="#505070" stroke-width="0.8"/>
<text x="31" y="125.75" font-size="10" fill="#3535b5" stroke="#3535b5" stroke-width="0.25" font-family="'Liberation Sans', Arial, sans-serif" text-anchor="end" >-10</text>
<line x1="35" y1="160.4" x2="38.4" y2="160.4" stroke="#505070" stroke-width="0.8"/>
<text x="31" y="164.7" font-size="10" fill="#3535b5" stroke="#3535b5" stroke-width="0.25" font-family="'Liberation Sans', Arial, sans-serif" text-anchor="end" >-20</text>
<line x1="478.6" y1="4.6" x2="482" y2="4.6" stroke="#707070" stroke-width="0.8"/>
<text x="486" y="8.8" font-size="10" fill="#d83a3a" stroke="#d83a3a" stroke-width="0.25" font-family="'Liberation Sans', Arial, sans-serif" text-anchor="start" >4</text>
<line x1="478.6" y1="43.55" x2="482" y2="43.55" stroke="#707070" stroke-width="0.8"/>
<text x="486" y="47.75" font-size="10" fill="#d83a3a" stroke="#d83a3a" stroke-width="0.25" font-family="'Liberation Sans', Arial, sans-serif" text-anchor="start" >2</text>
<line x1="478.6" y1="82.5" x2="482" y2="82.5" stroke="#707070" stroke-width="0.8"/>
<text x="486" y="86.7" font-size="10" fill="#d83a3a" stroke="#d83a3a" stroke-width="0.25" font-family="'Liberation Sans', Arial, sans-serif" text-anchor="start" >0</text>
<line x1="478.6" y1="121.45" x2="482" y2="121.45" stroke="#707070" stroke-width="0.8"/>
<text x="486" y="125.65" font-size="10" fill="#d83a3a" stroke="#d83a3a" stroke-width="0.25" font-family="'Liberation Sans', Arial, sans-serif" text-anchor="start" >-2</text>
<line x1="478.6" y1="160.4" x2="482" y2="160.4" stroke="#707070" stroke-width="0.8"/>
<text x="486" y="164.6" font-size="10" fill="#d83a3a" stroke="#d83a3a" stroke-width="0.25" font-family="'Liberation Sans', Arial, sans-serif" text-anchor="start" >-4</text>
<text x="38.2" y="16.4" font-size="11.6" fill="#202020" stroke="#202020" stroke-width="0.35" font-family="'Liberation Serif', 'Times New Roman', serif" text-anchor="start" >(a)</text>
<text x="258.5" y="187.2" font-size="11.5" fill="#404040" stroke="#404040" stroke-width="0.25" font-family="'Liberation Serif', 'Times New Roman', serif" text-anchor="middle" >Time (ms)</text>
<text x="0" y="0" font-size="11.5" fill="#3535b5" stroke="#3535b5" stroke-width="0.25" font-family="'Liberation Serif', 'Times New Roman', serif" text-anchor="middle" dominant-baseline="central" transform="translate(7.1 82.4) rotate(-90)">Voltage (kV)</text>
<text x="0" y="0" font-size="11.5" fill="#d83a3a" stroke="#d83a3a" stroke-width="0.25" font-family="'Liberation Serif', 'Times New Roman', serif" text-anchor="middle" dominant-baseline="central" transform="translate(503.3 82.4) rotate(-90)">Current (A)</text>
<polyline points="34.8,270.71 35,270.71 35.2,270.71 35.4,270.71 35.6,270.71 35.8,270.71 36,270.71 36.2,270.71 36.4,270.71 36.6,270.71 36.8,270.71 37,270.71 37.2,270.71 37.4,270.71 37.6,270.71 37.8,270.71 38,270.71 38.2,270.71 38.4,270.71 38.6,270.71 38.8,270.71 39,270.71 39.2,270.71 39.4,270.71 39.6,270.77 39.8,270.96 40,271.28 40.2,271.71 40.4,272.27 40.6,272.93 40.8,273.71 41,274.58 41.2,275.55 41.4,276.6 41.6,277.73 41.8,278.93 42,280.18 42.2,281.48 42.4,282.82 42.6,284.17 42.8,285.54 43,286.91 43.2,288.27 43.4,289.6 43.6,290.9 43.8,292.15 44,293.35 44.2,294.48 44.4,295.53 44.6,296.5 44.8,297.38 45,298.15 45.2,298.82 45.4,299.37 45.6,299.81 45.8,300.12 46,300.31 46.2,300.37 46.4,300.3 46.61,300.08 46.81,299.72 47.02,299.22 47.22,298.58 47.43,297.8 47.63,296.88 47.83,295.84 48.04,294.67 48.24,293.38 48.45,291.97 48.65,290.46 48.85,288.84 49.06,287.13 49.26,285.33 49.47,283.44 49.67,281.49 49.88,279.47 50.08,277.4 50.28,275.28 50.49,273.12 50.69,270.93 50.9,268.73 51.1,266.52 51.3,264.3 51.51,262.1 51.71,259.91 51.92,257.75 52.12,255.63 52.33,253.56 52.53,251.54 52.73,249.59 52.94,247.71 53.14,245.91 53.35,244.19 53.55,242.58 53.75,241.06 53.96,239.66 54.16,238.37 54.37,237.2 54.57,236.15 54.77,235.24 54.98,234.46 55.18,233.81 55.39,233.31 55.59,232.95 55.8,232.73 56,232.66 56.2,232.78 56.4,233.16 56.61,233.79 56.81,234.66 57.01,235.78 57.21,237.13 57.41,238.72 57.62,240.53 57.82,242.56 58.02,244.79 58.22,247.23 58.42,249.86 58.63,252.66 58.83,255.63 59.03,258.76 59.23,262.02 59.44,265.41 59.64,268.91 59.84,272.51 60.04,276.18 60.24,279.93 60.45,283.72 60.65,287.54 60.85,291.38 61.05,295.22 61.25,299.05 61.46,302.84 61.66,306.58 61.86,310.26 62.06,313.86 62.26,317.36 62.47,320.75 62.67,324.01 62.87,327.13 63.07,330.1 63.28,332.91 63.48,335.54 63.68,337.97 63.88,340.21 64.08,342.24 64.29,344.05 64.49,345.64 64.69,346.99 64.89,348.11 65.09,348.98 65.3,349.61 65.5,349.98 65.7,350.11 65.93,331.53 66.17,294.38 66.4,275.8 66.7,275.5 67,275.2 67.21,275.4 67.42,275.97 67.63,276.86 67.84,278.01 68.05,279.32 68.25,280.68 68.46,281.99 68.67,283.14 68.88,284.03 69.09,284.6 69.3,284.79 69.5,284.74 69.7,284.58 69.91,284.32 70.11,283.96 70.31,283.49 70.52,282.93 70.72,282.28 70.92,281.53 71.12,280.7 71.33,279.79 71.53,278.81 71.73,277.75 71.93,276.64 72.14,275.47 72.34,274.25 72.54,272.99 72.74,271.7 72.95,270.39 73.15,269.05 73.35,267.71 73.55,266.37 73.75,265.04 73.96,263.73 74.16,262.44 74.36,261.18 74.56,259.96 74.77,258.79 74.97,257.68 75.17,256.62 75.38,255.64 75.58,254.73 75.78,253.9 75.98,253.15 76.19,252.5 76.39,251.94 76.59,251.47 76.79,251.11 77,250.85 77.2,250.69 77.4,250.64 77.6,250.71 77.81,250.92 78.01,251.28 78.22,251.78 78.42,252.43 78.62,253.2 78.83,254.12 79.03,255.17 79.23,256.34 79.44,257.64 79.64,259.06 79.85,260.59 80.05,262.23 80.25,263.98 80.46,265.82 80.66,267.75 80.86,269.77 81.07,271.87 81.27,274.03 81.48,276.26 81.68,278.54 81.88,280.86 82.09,283.23 82.29,285.62 82.49,288.04 82.7,290.47 82.9,292.9 83.11,295.33 83.31,297.74 83.51,300.14 83.72,302.5 83.92,304.83 84.12,307.11 84.33,309.34 84.53,311.5 84.74,313.6 84.94,315.61 85.14,317.55 85.35,319.39 85.55,321.14 85.75,322.78 85.96,324.31 86.16,325.73 86.37,327.03 86.57,328.2 86.77,329.25 86.98,330.16 87.18,330.94 87.38,331.58 87.59,332.08 87.79,332.44 88,332.66 88.2,332.73 88.4,332.52 88.61,331.9 88.81,330.87 89.01,329.44 89.21,327.61 89.42,325.4 89.62,322.83 89.82,319.91 90.02,316.66 90.23,313.1 90.43,309.27 90.63,305.18 90.83,300.86 91.04,296.34 91.24,291.66 91.44,286.84 91.64,281.92 91.85,276.93 92.05,271.91 92.25,266.89 92.46,261.9 92.66,256.98 92.86,252.16 93.06,247.48 93.27,242.96 93.47,238.64 93.67,234.55 93.87,230.72 94.08,227.16 94.28,223.91 94.48,220.99 94.68,218.42 94.89,216.21 95.09,214.38 95.29,212.95 95.49,211.92 95.7,211.29 95.9,211.09 96.13,215.62 96.37,228.02 96.6,244.94 96.83,261.87 97.07,274.26 97.3,278.8 97.52,278.28 97.73,276.85 97.95,274.91 98.17,272.96 98.38,271.53 98.6,271.01 98.81,270.96 99.02,270.82 99.22,270.6 99.43,270.3 99.64,269.95 99.85,269.56 100.05,269.16 100.26,268.78 100.47,268.43 100.68,268.13 100.88,267.9 101.09,267.76 101.3,267.71 101.5,267.75 101.7,267.86 101.9,268.03 102.1,268.26 102.3,268.54 102.5,268.85 102.7,269.19 102.9,269.53 103.1,269.87 103.3,270.19 103.5,270.46 103.7,270.7 103.9,270.87 104.1,270.97 104.3,271.01 104.53,271.27 104.75,271.91 104.97,272.54 105.2,272.81 105.4,272.88 105.6,273.12 105.8,273.5 106,274.03 106.2,274.69 106.4,275.5 106.6,276.42 106.8,277.47 107,278.61 107.2,279.85 107.4,281.16 107.6,282.54 107.8,283.96 108,285.42 108.2,286.89 108.4,288.36 108.6,289.82 108.8,291.24 109,292.62 109.2,293.93 109.4,295.17 109.6,296.31 109.8,297.35 110,298.28 110.2,299.08 110.4,299.75 110.6,300.28 110.8,300.66 111,300.89 111.2,300.97 111.4,300.9 111.6,300.68 111.81,300.32 112.01,299.82 112.21,299.17 112.41,298.39 112.61,297.48 112.82,296.44 113.02,295.27 113.22,293.98 113.42,292.57 113.62,291.06 113.83,289.44 114.03,287.73 114.23,285.92 114.43,284.04 114.64,282.09 114.84,280.07 115.04,278 115.24,275.88 115.44,273.72 115.65,271.53 115.85,269.33 116.05,267.12 116.25,264.9 116.45,262.7 116.66,260.51 116.86,258.35 117.06,256.23 117.26,254.16 117.46,252.14 117.67,250.19 117.87,248.31 118.07,246.5 118.27,244.79 118.48,243.17 118.68,241.66 118.88,240.25 119.08,238.96 119.28,237.79 119.49,236.75 119.69,235.84 119.89,235.06 120.09,234.41 120.29,233.91 120.5,233.55 120.7,233.33 120.9,233.26 121.1,233.37 121.3,233.71 121.51,234.28 121.71,235.08 121.91,236.09 122.11,237.32 122.31,238.76 122.52,240.41 122.72,242.26 122.92,244.3 123.12,246.53 123.32,248.93 123.53,251.5 123.73,254.22 123.93,257.1 124.13,260.1 124.33,263.23 124.54,266.46 124.74,269.8 124.94,273.22 125.14,276.7 125.34,280.25 125.55,283.84 125.75,287.45 125.95,291.08 126.15,294.72 126.35,298.33 126.56,301.92 126.76,305.46 126.96,308.95 127.16,312.37 127.36,315.71 127.57,318.94 127.77,322.07 127.97,325.07 128.17,327.94 128.37,330.67 128.58,333.24 128.78,335.64 128.98,337.87 129.18,339.91 129.38,341.76 129.59,343.41 129.79,344.85 129.99,346.08 130.19,347.09 130.39,347.89 130.6,348.45 130.8,348.8 131,348.91 131.22,344.09 131.43,330.93 131.65,312.96 131.87,294.98 132.08,281.82 132.3,277 132.54,276.83 132.78,276.38 133.02,275.83 133.26,275.38 133.5,275.2 133.7,275.17 133.9,275.08 134.1,274.92 134.3,274.71 134.5,274.43 134.7,274.09 134.9,273.7 135.1,273.25 135.3,272.74 135.5,272.19 135.7,271.59 135.9,270.94 136.1,270.25 136.3,269.53 136.5,268.76 136.7,267.97 136.9,267.15 137.1,266.3 137.3,265.44 137.5,264.56 137.7,263.67 137.9,262.77 138.1,261.87 138.3,260.97 138.5,260.08 138.7,259.2 138.9,258.34 139.1,257.49 139.3,256.67 139.5,255.88 139.7,255.12 139.9,254.39 140.1,253.7 140.3,253.05 140.5,252.45 140.7,251.9 140.9,251.4 141.1,250.95 141.3,250.55 141.5,250.21 141.7,249.94 141.9,249.72 142.1,249.56 142.3,249.47 142.5,249.44 142.7,249.51 142.9,249.75 143.1,250.13 143.3,250.67 143.5,251.35 143.7,252.18 143.9,253.16 144.1,254.28 144.3,255.53 144.5,256.92 144.7,258.43 144.9,260.06 145.1,261.81 145.3,263.67 145.5,265.63 145.7,267.69 145.9,269.83 146.1,272.05 146.3,274.35 146.5,276.7 146.7,279.12 146.9,281.57 147.1,284.07 147.3,286.59 147.5,289.13 147.7,291.68 147.9,294.23 148.1,296.78 148.3,299.3 148.5,301.79 148.7,304.25 148.9,306.66 149.1,309.02 149.3,311.32 149.5,313.54 149.7,315.68 149.9,317.74 150.1,319.7 150.3,321.56 150.5,323.3 150.7,324.94 150.9,326.45 151.1,327.84 151.3,329.09 151.5,330.21 151.7,331.18 151.9,332.02 152.1,332.7 152.3,333.24 152.5,333.62 152.7,333.85 152.9,333.93 153.11,333.72 153.31,333.1 153.52,332.08 153.72,330.65 153.93,328.83 154.13,326.63 154.34,324.07 154.54,321.17 154.75,317.93 154.95,314.4 155.16,310.58 155.36,306.51 155.57,302.21 155.77,297.72 155.98,293.06 156.18,288.26 156.39,283.37 156.59,278.4 156.8,273.41 157.01,268.41 157.21,263.45 157.42,258.55 157.62,253.76 157.83,249.1 158.03,244.6 158.24,240.3 158.44,236.23 158.65,232.42 158.85,228.88 159.06,225.65 159.26,222.74 159.47,220.18 159.67,217.98 159.88,216.16 160.08,214.74 160.29,213.71 160.49,213.09 160.7,212.88 160.92,219.18 161.14,235.66 161.36,256.03 161.58,272.51 161.8,278.8 162.01,278.57 162.22,277.89 162.43,276.85 162.64,275.58 162.86,274.23 163.07,272.96 163.28,271.92 163.49,271.24 163.7,271.01 163.9,271.01 164.1,271.01 164.3,271 164.5,271 164.7,270.99 164.9,270.99 165.1,270.98 165.3,270.97 165.5,270.96 165.7,270.95 165.9,270.94 166.1,270.93 166.3,270.91 166.5,270.9 166.7,270.89 166.9,270.87 167.1,270.86 167.3,270.85 167.5,270.83 167.7,270.82 167.9,270.81 168.1,270.79 168.3,270.78 168.5,270.77 168.7,270.76 168.9,270.75 169.1,270.74 169.3,270.73 169.5,270.73 169.7,270.72 169.9,270.72 170.1,270.71 170.3,270.71 170.5,270.71 170.7,270.77 170.9,270.96 171.1,271.27 171.3,271.71 171.5,272.26 171.7,272.91 171.9,273.67 172.1,274.53 172.3,275.47 172.5,276.48 172.7,277.55 172.9,278.68 173.1,279.85 173.3,281.04 173.5,282.25 173.7,283.45 173.9,284.64 174.1,285.81 174.3,286.94 174.5,288.01 174.7,289.03 174.9,289.96 175.1,290.82 175.3,291.58 175.5,292.24 175.7,292.78 175.9,293.22 176.1,293.53 176.3,293.72 176.5,293.78 176.7,293.72 176.9,293.54 177.1,293.24 177.3,292.82 177.5,292.29 177.7,291.64 177.9,290.88 178.1,290.02 178.3,289.05 178.5,287.98 178.7,286.81 178.9,285.56 179.1,284.22 179.3,282.81 179.5,281.32 179.7,279.77 179.9,278.17 180.1,276.51 180.3,274.8 180.5,273.07 180.7,271.3 180.9,269.51 181.1,267.72 181.3,265.91 181.5,264.12 181.7,262.33 181.9,260.56 182.1,258.83 182.3,257.12 182.5,255.46 182.7,253.86 182.9,252.31 183.1,250.82 183.3,249.41 183.5,248.07 183.7,246.82 183.9,245.65 184.1,244.58 184.3,243.61 184.5,242.75 184.7,241.99 184.9,241.34 185.1,240.81 185.3,240.39 185.5,240.09 185.7,239.91 185.9,239.85 186.1,239.94 186.3,240.22 186.51,240.68 186.71,241.33 186.91,242.16 187.11,243.16 187.31,244.34 187.52,245.68 187.72,247.2 187.92,248.87 188.12,250.69 188.32,252.66 188.53,254.77 188.73,257.01 188.93,259.37 189.13,261.85 189.33,264.43 189.53,267.11 189.74,269.88 189.94,272.72 190.14,275.63 190.34,278.6 190.54,281.6 190.75,284.65 190.95,287.71 191.15,290.78 191.35,293.86 191.55,296.92 191.76,299.97 191.96,302.97 192.16,305.94 192.36,308.85 192.56,311.69 192.77,314.46 192.97,317.14 193.17,319.72 193.37,322.2 193.57,324.56 193.78,326.8 193.98,328.91 194.18,330.88 194.38,332.7 194.58,334.37 194.78,335.88 194.99,337.23 195.19,338.41 195.39,339.41 195.59,340.24 195.79,340.88 196,341.35 196.2,341.63 196.4,341.72 196.61,341.49 196.81,340.8 197.02,339.65 197.22,338.06 197.43,336.03 197.63,333.58 197.84,330.72 198.04,327.49 198.25,323.89 198.45,319.96 198.66,315.73 198.86,311.22 199.07,306.47 199.28,301.51 199.48,296.38 199.69,291.11 199.89,285.75 200.1,280.32 200.3,274.88 200.51,269.46 200.71,264.09 200.92,258.83 201.12,253.69 201.33,248.74 201.54,243.98 201.74,239.48 201.95,235.24 202.15,231.31 202.36,227.72 202.56,224.48 202.77,221.63 202.97,219.18 203.18,217.15 203.38,215.55 203.59,214.41 203.79,213.71 204,213.48 204.22,223.05 204.45,246.14 204.68,269.23 204.9,278.8 205.11,278.57 205.32,277.89 205.53,276.85 205.74,275.58 205.96,274.23 206.17,272.96 206.38,271.92 206.59,271.24 206.8,271.01 207.01,271.01 207.21,271.01 207.42,271 207.62,271 207.83,271 208.03,270.99 208.24,270.98 208.44,270.97 208.65,270.97 208.86,270.96 209.06,270.95 209.27,270.94 209.47,270.92 209.68,270.91 209.88,270.9 210.09,270.89 210.29,270.87 210.5,270.86 210.71,270.85 210.91,270.83 211.12,270.82 211.32,270.81 211.53,270.8 211.73,270.79 211.94,270.77 212.14,270.76 212.35,270.75 212.56,270.75 212.76,270.74 212.97,270.73 213.17,270.72 213.38,270.72 213.58,270.72 213.79,270.71 213.99,270.71 214.2,270.71 214.4,270.75 214.6,270.87 214.8,271.06 215,271.33 215.2,271.67 215.4,272.08 215.6,272.55 215.8,273.08 216,273.65 216.2,274.27 216.4,274.92 216.6,275.6 216.8,276.3 217,277 217.2,277.71 217.4,278.4 217.6,279.08 217.8,279.73 218,280.35 218.2,280.93 218.4,281.45 218.6,281.92 218.8,282.33 219,282.67 219.2,282.94 219.4,283.14 219.6,283.25 219.8,283.29 220,283.22 220.21,283.01 220.41,282.66 220.62,282.18 220.82,281.58 221.03,280.87 221.23,280.06 221.43,279.17 221.64,278.21 221.84,277.21 222.05,276.18 222.25,275.13 222.46,274.1 222.66,273.1 222.87,272.14 223.07,271.25 223.27,270.44 223.48,269.73 223.68,269.13 223.89,268.65 224.09,268.3 224.3,268.09 224.5,268.01 224.72,267.69 224.93,266.82 225.15,265.62 225.37,264.42 225.58,263.54 225.8,263.22" fill="none" stroke="#3434b4" stroke-width="1.2" stroke-linejoin="round" />
<polyline points="34.8,271.29 35.4,271.75 36,270.43 36.6,271.96 37.2,270.74 37.8,271.18 38.4,272 39,270.81" fill="none" stroke="#20209a" stroke-width="1.5" stroke-linejoin="round" />
<polyline points="163.5,272.05 164.1,271.01 164.7,271.96 165.3,271.91 165.9,271.03 166.5,269.97 167.1,271.82 167.7,271.56 168.3,270.49 168.9,269.65 169.5,270.63 170.1,271.1 170.7,269.57" fill="none" stroke="#20209a" stroke-width="1.5" stroke-linejoin="round" />
<polyline points="206.6,272.03 207.2,269.89 207.8,271.38 208.4,271.77 209,271.84 209.6,271.34 210.2,270 210.8,271.67 211.4,270.62 212,270.46 212.6,271.17 213.2,270.7 213.8,271.98 214.4,271.99" fill="none" stroke="#20209a" stroke-width="1.5" stroke-linejoin="round" />
<polyline points="107,278.8 107.2,277.75 107.4,276.44 107.6,275.06 107.8,273.64 108,272.18 108.2,270.71 108.4,269.24 108.6,267.78 108.8,266.36 109,264.98 109.2,263.67 109.4,262.43 109.6,261.29 109.8,260.25 110,259.32 110.2,258.52 110.4,257.85 110.6,257.32 110.8,256.94 111,256.71 111.2,256.63 111.4,256.7 111.6,256.92 111.81,257.28 112.01,257.78 112.21,258.43 112.41,259.21 112.61,260.12 112.82,261.16 113.02,262.33 113.22,263.62 113.42,265.03 113.62,266.54 113.83,268.16 114.03,269.87 114.23,271.68 114.43,273.56 114.64,275.51 114.84,277.53" fill="none" stroke="#3434b4" stroke-width="1.2" stroke-linejoin="round" stroke-dasharray="1.5 1.2"/>
<polyline points="125.34,277.35 125.55,273.76 125.75,270.15 125.95,266.52 126.15,262.88 126.35,259.27 126.56,255.68 126.76,252.14 126.96,248.65 127.16,245.23 127.36,241.89 127.57,238.66 127.77,235.53 127.97,232.53 128.17,229.66 128.37,226.93 128.58,224.36 128.78,221.96 128.98,219.73 129.18,217.69 129.38,215.84 129.59,214.19 129.79,212.75 129.99,211.52 130.19,210.51 130.39,209.71 130.6,209.15 130.8,208.8 131,208.69" fill="none" stroke="#3434b4" stroke-width="1.2" stroke-linejoin="round" stroke-dasharray="1.5 1.2"/>
<line x1="131.1" y1="208.69" x2="131.1" y2="278.8" stroke="#3434b4" stroke-width="1.2" stroke-dasharray="1.5 1.2"/>
<polyline points="34.8,278.89 35.3,278.85 35.8,278.81 36.3,278.77 36.8,278.73 37.3,278.69 37.8,278.66 38.3,278.63 38.8,278.6 39.3,278.58 39.8,278.57 40.3,278.57 40.8,278.57 41.3,278.58 41.8,278.59 42.3,278.62 42.8,278.64 43.3,278.68 43.8,278.71 44.3,278.75 44.8,278.79 45.3,278.83 45.8,278.87 46.3,278.91 46.8,278.95 47.3,278.98 47.8,279 48.3,279.02 48.8,279.03 49.3,279.03 49.8,279.03 50.3,279.02 50.8,279 51.3,278.98 51.8,278.95 52.3,278.92 52.8,278.88 53.3,278.85 53.8,278.8 54.3,278.76 54.8,278.72 55.3,278.69 55.8,278.65 56.3,278.62 56.8,278.6 57.3,278.58 57.8,278.57 58.3,278.57 58.8,278.57 59.3,278.58 59.8,278.6 60.3,278.62 60.8,278.65 61.3,278.68 61.8,278.72 62.3,278.76 62.8,278.8 63.3,278.84 63.8,278.88 64.3,278.91 64.8,278.95 65.3,278.98 65.8,279 66.3,279.02 66.8,278.73 67.3,278.45 67.8,278.2 68.3,278.01 68.8,277.87 69.3,277.81 69.8,277.82 70.3,277.91 70.8,278.05 71.3,278.26 71.8,278.5 72.3,278.76 72.8,278.72 73.3,278.68 73.8,278.65 74.3,278.62 74.8,278.6 75.3,278.58 75.8,278.57 76.3,278.57 76.8,278.57 77.3,278.58 77.8,278.6 78.3,278.62 78.8,278.65 79.3,278.68 79.8,278.72 80.3,278.76 80.8,278.8 81.3,278.84 81.8,278.88 82.3,278.92 82.8,278.95 83.3,278.98 83.8,279 84.3,279.02 84.8,279.03 85.3,279.03 85.8,279.03 86.3,279.02 86.8,279 87.3,278.98 87.8,278.95 88.3,278.91 88.8,278.88 89.3,278.84 89.8,278.8 90.3,278.76 90.8,278.72 91.3,278.68 91.8,278.65 92.3,278.62 92.8,278.6 93.3,278.58 93.8,278.57 94.3,278.57 94.8,278.57 95.3,278.58 95.8,278.6 96.3,278.62 96.8,278.65 97.3,278.63 97.8,278.36 98.3,278.13 98.8,277.94 99.3,277.8 99.8,277.74 100.3,277.75 100.8,277.84 101.3,278 101.8,278.22 102.3,278.49 102.8,278.79 103.3,279.03 103.8,279.03 104.3,279.02 104.8,279 105.3,278.97 105.8,278.94 106.3,278.91 106.8,278.87 107.3,278.83 107.8,278.79 108.3,278.75 108.8,278.71 109.3,278.68 109.8,278.64 110.3,278.62 110.8,278.59 111.3,278.58 111.8,278.57 112.3,278.57 112.8,278.57 113.3,278.58 113.8,278.6 114.3,278.63 114.8,278.66 115.3,278.69 115.8,278.73 116.3,278.77 116.8,278.81 117.3,278.85 117.8,278.89 118.3,278.92 118.8,278.96 119.3,278.99 119.8,279.01 120.3,279.02 120.8,279.03 121.3,279.03 121.8,279.03 122.3,279.02 122.8,279 123.3,278.97 123.8,278.94 124.3,278.91 124.8,278.87 125.3,278.83 125.8,278.79 126.3,278.75 126.8,278.71 127.3,278.67 127.8,278.64 128.3,278.61 128.8,278.59 129.3,278.58 129.8,278.57 130.3,278.57 130.8,278.57 131.3,278.58 131.8,278.36 132.3,278.1 132.8,277.88 133.3,277.71 133.8,277.62 134.3,277.61 134.8,277.67 135.3,277.81 135.8,278.02 136.3,278.29 136.8,278.6 137.3,278.93 137.8,279.01 138.3,279.02 138.8,279.03 139.3,279.03 139.8,279.03 140.3,279.01 140.8,278.99 141.3,278.97 141.8,278.94 142.3,278.9 142.8,278.87 143.3,278.83 143.8,278.78 144.3,278.74 144.8,278.71 145.3,278.67 145.8,278.64 146.3,278.61 146.8,278.59 147.3,278.58 147.8,278.57 148.3,278.57 148.8,278.57 149.3,278.59 149.8,278.61 150.3,278.63 150.8,278.66 151.3,278.7 151.8,278.74 152.3,278.78 152.8,278.82 153.3,278.86 153.8,278.9 154.3,278.93 154.8,278.96 155.3,278.99 155.8,279.01 156.3,279.03 156.8,279.03 157.3,279.03 157.8,279.03 158.3,279.01 158.8,278.99 159.3,278.97 159.8,278.94 160.3,278.9 160.8,278.86 161.3,278.82 161.8,278.54 162.3,278.21 162.8,277.92 163.3,277.69 163.8,277.52 164.3,277.44 164.8,277.45 165.3,277.53 165.8,277.7 166.3,277.93 166.8,278.21 167.3,278.53 167.8,278.61 168.3,278.63 168.8,278.67 169.3,278.7 169.8,278.74 170.3,278.78 170.8,278.82 171.3,278.86 171.8,278.9 172.3,278.93 172.8,278.97 173.3,278.99 173.8,279.01 174.3,279.03 174.8,279.03 175.3,279.03 175.8,279.03 176.3,279.01 176.8,278.99 177.3,278.96 177.8,278.93 178.3,278.9 178.8,278.86 179.3,278.82 179.8,278.78 180.3,278.74 180.8,278.7 181.3,278.66 181.8,278.63 182.3,278.61 182.8,278.59 183.3,278.57 183.8,278.57 184.3,278.57 184.8,278.58 185.3,278.59 185.8,278.61 186.3,278.64 186.8,278.67 187.3,278.71 187.8,278.74 188.3,278.78 188.8,278.82 189.3,278.86 189.8,278.9 190.3,278.94 190.8,278.97 191.3,278.99 191.8,279.01 192.3,279.03 192.8,279.03 193.3,279.03 193.8,279.02 194.3,279.01 194.8,278.99 195.3,278.96 195.8,278.93 196.3,278.89 196.8,278.85 197.3,278.81 197.8,278.77 198.3,278.73 198.8,278.7 199.3,278.66 199.8,278.63 200.3,278.6 200.8,278.59 201.3,278.57 201.8,278.57 202.3,278.57 202.8,278.58 203.3,278.59 203.8,278.61 204.3,278.64 204.8,278.61 205.3,278.35 205.8,278.11 206.3,277.92 206.8,277.79 207.3,277.73 207.8,277.74 208.3,277.83 208.8,277.99 209.3,278.21 209.8,278.48 210.3,278.78 210.8,279.03 211.3,279.03 211.8,279.02 212.3,279.01 212.8,278.99 213.3,278.96 213.8,278.93 214.3,278.89 214.8,278.85 215.3,278.81 215.8,278.77 216.3,278.73 216.8,278.69 217.3,278.66 217.8,278.63 218.3,278.6 218.8,278.58 219.3,278.57 219.8,278.57 220.3,278.57 220.8,278.58 221.3,278.59 221.8,278.62 222.3,278.64 222.8,278.68 223.3,278.71 223.8,278.75 224.3,278.79 224.8,278.83 225.3,278.87 225.8,278.91" fill="none" stroke="#e66a64" stroke-width="1.2" stroke-linejoin="round" />
<line x1="66.3" y1="226.61" x2="66.3" y2="334.3" stroke="#d08080" stroke-width="1.8"/>
<line x1="97.2" y1="212.59" x2="97.2" y2="330.41" stroke="#d08080" stroke-width="1.8"/>
<line x1="131.4" y1="208.69" x2="131.4" y2="345.01" stroke="#d08080" stroke-width="1.8"/>
<line x1="161.4" y1="212.59" x2="161.4" y2="330.41" stroke="#d08080" stroke-width="1.8"/>
<line x1="204.7" y1="212.59" x2="204.7" y2="330.41" stroke="#d08080" stroke-width="1.8"/>
<polyline points="97.52,278.28 97.73,276.85 97.95,274.91 98.17,272.96 98.38,271.53 98.6,271.01 98.81,270.96 99.02,270.82 99.22,270.6 99.43,270.3 99.64,269.95 99.85,269.56 100.05,269.16 100.26,268.78 100.47,268.43 100.68,268.13 100.88,267.9 101.09,267.76 101.3,267.71 101.5,267.75 101.7,267.86 101.9,268.03 102.1,268.26 102.3,268.54 102.5,268.85 102.7,269.19 102.9,269.53 103.1,269.87 103.3,270.19 103.5,270.46 103.7,270.7 103.9,270.87 104.1,270.97 104.3,271.01 104.53,271.27 104.75,271.91 104.97,272.54 105.2,272.81" fill="none" stroke="#20209a" stroke-width="1.6" stroke-linejoin="round" />
<line x1="98.2" y1="278.6" x2="131.8" y2="208.6" stroke="#1f8a1f" stroke-width="1.25"/>
<line x1="34.8" y1="200.9" x2="225.8" y2="200.9" stroke="#7a7a7a" stroke-width="1"/>
<line x1="34.8" y1="356.7" x2="225.8" y2="356.7" stroke="#7a7a7a" stroke-width="1"/>
<line x1="34.8" y1="200.9" x2="34.8" y2="356.7" stroke="#6b6bea" stroke-width="1.2"/>
<line x1="225.8" y1="200.9" x2="225.8" y2="356.7" stroke="#e07070" stroke-width="1"/>
<line x1="34.8" y1="356.7" x2="34.8" y2="354.2" stroke="#7a7a7a" stroke-width="0.8"/>
<line x1="34.8" y1="200.9" x2="34.8" y2="203.4" stroke="#7a7a7a" stroke-width="0.8"/>
<text x="34.8" y="370.9" font-size="10" fill="#404040" stroke="#404040" stroke-width="0.25" font-family="'Liberation Sans', Arial, sans-serif" text-anchor="middle" >0</text>
<line x1="73" y1="356.7" x2="73" y2="354.2" stroke="#7a7a7a" stroke-width="0.8"/>
<line x1="73" y1="200.9" x2="73" y2="203.4" stroke="#7a7a7a" stroke-width="0.8"/>
<text x="73" y="370.9" font-size="10" fill="#404040" stroke="#404040" stroke-width="0.25" font-family="'Liberation Sans', Arial, sans-serif" text-anchor="middle" >0.2</text>
<line x1="111.2" y1="356.7" x2="111.2" y2="354.2" stroke="#7a7a7a" stroke-width="0.8"/>
<line x1="111.2" y1="200.9" x2="111.2" y2="203.4" stroke="#7a7a7a" stroke-width="0.8"/>
<text x="111.2" y="370.9" font-size="10" fill="#404040" stroke="#404040" stroke-width="0.25" font-family="'Liberation Sans', Arial, sans-serif" text-anchor="middle" >0.4</text>
<line x1="149.4" y1="356.7" x2="149.4" y2="354.2" stroke="#7a7a7a" stroke-width="0.8"/>
<line x1="149.4" y1="200.9" x2="149.4" y2="203.4" stroke="#7a7a7a" stroke-width="0.8"/>
<text x="149.4" y="370.9" font-size="10" fill="#404040" stroke="#404040" stroke-width="0.25" font-family="'Liberation Sans', Arial, sans-serif" text-anchor="middle" >0.6</text>
<line x1="187.6" y1="356.7" x2="187.6" y2="354.2" stroke="#7a7a7a" stroke-width="0.8"/>
<line x1="187.6" y1="200.9" x2="187.6" y2="203.4" stroke="#7a7a7a" stroke-width="0.8"/>
<text x="187.6" y="370.9" font-size="10" fill="#404040" stroke="#404040" stroke-width="0.25" font-family="'Liberation Sans', Arial, sans-serif" text-anchor="middle" >0.8</text>
<line x1="225.8" y1="356.7" x2="225.8" y2="354.2" stroke="#7a7a7a" stroke-width="0.8"/>
<line x1="225.8" y1="200.9" x2="225.8" y2="203.4" stroke="#7a7a7a" stroke-width="0.8"/>
<text x="225.8" y="370.9" font-size="10" fill="#404040" stroke="#404040" stroke-width="0.25" font-family="'Liberation Sans', Arial, sans-serif" text-anchor="middle" >1</text>
<line x1="34.8" y1="218.88" x2="37.599999999999994" y2="218.88" stroke="#505070" stroke-width="0.8"/>
<text x="30.8" y="223.18" font-size="10" fill="#3535b5" stroke="#3535b5" stroke-width="0.25" font-family="'Liberation Sans', Arial, sans-serif" text-anchor="end" >10</text>
<line x1="34.8" y1="248.84" x2="37.599999999999994" y2="248.84" stroke="#505070" stroke-width="0.8"/>
<text x="30.8" y="253.14" font-size="10" fill="#3535b5" stroke="#3535b5" stroke-width="0.25" font-family="'Liberation Sans', Arial, sans-serif" text-anchor="end" >5</text>
<line x1="34.8" y1="278.8" x2="37.599999999999994" y2="278.8" stroke="#505070" stroke-width="0.8"/>
<text x="30.8" y="283.1" font-size="10" fill="#3535b5" stroke="#3535b5" stroke-width="0.25" font-family="'Liberation Sans', Arial, sans-serif" text-anchor="end" >0</text>
<line x1="34.8" y1="308.76" x2="37.599999999999994" y2="308.76" stroke="#505070" stroke-width="0.8"/>
<text x="30.8" y="313.06" font-size="10" fill="#3535b5" stroke="#3535b5" stroke-width="0.25" font-family="'Liberation Sans', Arial, sans-serif" text-anchor="end" >-5</text>
<line x1="34.8" y1="338.72" x2="37.599999999999994" y2="338.72" stroke="#505070" stroke-width="0.8"/>
<text x="30.8" y="343.02" font-size="10" fill="#3535b5" stroke="#3535b5" stroke-width="0.25" font-family="'Liberation Sans', Arial, sans-serif" text-anchor="end" >-10</text>
<line x1="223.0" y1="200.9" x2="225.8" y2="200.9" stroke="#707070" stroke-width="0.8"/>
<text x="229.3" y="205.1" font-size="10" fill="#d83a3a" stroke="#d83a3a" stroke-width="0.25" font-family="'Liberation Sans', Arial, sans-serif" text-anchor="start" >4</text>
<line x1="223.0" y1="239.85" x2="225.8" y2="239.85" stroke="#707070" stroke-width="0.8"/>
<text x="229.3" y="244.05" font-size="10" fill="#d83a3a" stroke="#d83a3a" stroke-width="0.25" font-family="'Liberation Sans', Arial, sans-serif" text-anchor="start" >2</text>
<line x1="223.0" y1="278.8" x2="225.8" y2="278.8" stroke="#707070" stroke-width="0.8"/>
<text x="229.3" y="283" font-size="10" fill="#d83a3a" stroke="#d83a3a" stroke-width="0.25" font-family="'Liberation Sans', Arial, sans-serif" text-anchor="start" >0</text>
<line x1="223.0" y1="317.75" x2="225.8" y2="317.75" stroke="#707070" stroke-width="0.8"/>
<text x="229.3" y="321.95" font-size="10" fill="#d83a3a" stroke="#d83a3a" stroke-width="0.25" font-family="'Liberation Sans', Arial, sans-serif" text-anchor="start" >-2</text>
<line x1="223.0" y1="356.7" x2="225.8" y2="356.7" stroke="#707070" stroke-width="0.8"/>
<text x="229.3" y="360.9" font-size="10" fill="#d83a3a" stroke="#d83a3a" stroke-width="0.25" font-family="'Liberation Sans', Arial, sans-serif" text-anchor="start" >-4</text>
<text x="38" y="212.7" font-size="11.6" fill="#202020" stroke="#202020" stroke-width="0.35" font-family="'Liberation Serif', 'Times New Roman', serif" text-anchor="start" >(b)</text>
<text x="130.3" y="383.7" font-size="11.5" fill="#404040" stroke="#404040" stroke-width="0.25" font-family="'Liberation Serif', 'Times New Roman', serif" text-anchor="middle" >Time (ms)</text>
<text x="134" y="212.4" font-size="11.4" font-style="italic" fill="#4a9a4a" stroke="#4a9a4a" stroke-width="0.2" font-family="'Liberation Serif', 'Times New Roman', serif">V</text>
<text x="147" y="212.1" font-size="11" fill="#4a9a4a" stroke="#4a9a4a" stroke-width="0.2" font-family="'Liberation Serif', 'Times New Roman', serif">&#8776;</text>
<text x="155.8" y="212.4" font-size="11" fill="#4a9a4a" stroke="#4a9a4a" stroke-width="0.2" font-family="'Liberation Serif', 'Times New Roman', serif">64.09</text>
<text x="184.6" y="212.4" font-size="11.2" textLength="34.6" lengthAdjust="spacing" fill="#4a9a4a" stroke="#4a9a4a" stroke-width="0.2" font-family="'Liberation Serif', 'Times New Roman', serif">kV/ms</text>
<circle cx="137" cy="202.1" r="0.7" fill="#4a9a4a"/>
<text x="0" y="0" font-size="11.5" fill="#3535b5" stroke="#3535b5" stroke-width="0.25" font-family="'Liberation Serif', 'Times New Roman', serif" text-anchor="middle" dominant-baseline="central" transform="translate(6.8 279.4) rotate(-90)">Voltage (kV)</text>
<text x="0" y="0" font-size="11.5" fill="#d83a3a" stroke="#d83a3a" stroke-width="0.25" font-family="'Liberation Serif', 'Times New Roman', serif" text-anchor="middle" dominant-baseline="central" transform="translate(247.7 280) rotate(-90)">Current (A)</text>
<polyline points="291.5,296.18 291.71,296.15 291.93,296.06 292.14,295.94 292.36,295.81 292.57,295.69 292.79,295.61 293,295.58 293.2,295.54 293.41,295.43 293.61,295.24 293.82,294.98 294.02,294.65 294.22,294.24 294.43,293.77 294.63,293.23 294.84,292.62 295.04,291.94 295.24,291.21 295.45,290.42 295.65,289.57 295.85,288.67 296.06,287.72 296.26,286.73 296.47,285.69 296.67,284.62 296.87,283.51 297.08,282.38 297.28,281.22 297.49,280.03 297.69,278.84 297.89,277.63 298.1,276.41 298.3,275.19 298.51,273.98 298.71,272.77 298.91,271.57 299.12,270.39 299.32,269.23 299.53,268.1 299.73,266.99 299.93,265.92 300.14,264.88 300.34,263.89 300.55,262.94 300.75,262.04 300.95,261.19 301.16,260.4 301.36,259.66 301.56,258.99 301.77,258.38 301.97,257.84 302.18,257.36 302.38,256.96 302.58,256.63 302.79,256.37 302.99,256.18 303.2,256.07 303.4,256.03 303.6,256.13 303.81,256.41 304.01,256.89 304.21,257.56 304.41,258.4 304.62,259.43 304.82,260.62 305.02,261.98 305.22,263.49 305.43,265.14 305.63,266.93 305.83,268.84 306.03,270.86 306.24,272.98 306.44,275.17 306.64,277.44 306.84,279.76 307.05,282.12 307.25,284.5 307.45,286.89 307.65,289.27 307.86,291.62 308.06,293.94 308.26,296.21 308.46,298.41 308.67,300.52 308.87,302.54 309.07,304.45 309.27,306.24 309.48,307.89 309.68,309.4 309.88,310.76 310.08,311.96 310.29,312.98 310.49,313.83 310.69,314.49 310.89,314.97 311.1,315.26 311.3,315.35 311.53,311.32 311.75,301.57 311.98,291.83 312.2,287.79 312.41,287.85 312.63,288.05 312.84,288.36 313.05,288.78 313.27,289.29 313.48,289.86 313.69,290.47 313.91,291.1 314.12,291.71 314.33,292.28 314.55,292.79 314.76,293.21 314.97,293.52 315.19,293.72 315.4,293.78 315.6,293.74 315.8,293.61 316,293.4 316.2,293.1 316.4,292.72 316.6,292.27 316.8,291.73 317,291.11 317.2,290.42 317.4,289.66 317.6,288.83 317.8,287.93 318,286.98 318.2,285.96 318.4,284.89 318.6,283.77 318.8,282.6 319,281.39 319.2,280.15 319.4,278.87 319.6,277.57 319.8,276.25 320,274.91 320.2,273.56 320.4,272.21 320.6,270.85 320.8,269.5 321,268.17 321.2,266.84 321.4,265.54 321.6,264.27 321.8,263.02 322,261.82 322.2,260.65 322.4,259.53 322.6,258.46 322.8,257.44 323,256.48 323.2,255.59 323.4,254.76 323.6,253.99 323.8,253.3 324,252.69 324.2,252.15 324.4,251.69 324.6,251.31 324.8,251.02 325,250.81 325.2,250.68 325.4,250.64 325.6,250.76 325.81,251.14 326.01,251.76 326.21,252.62 326.41,253.72 326.62,255.05 326.82,256.6 327.02,258.35 327.23,260.29 327.43,262.41 327.63,264.69 327.83,267.12 328.04,269.67 328.24,272.32 328.44,275.06 328.64,277.87 328.85,280.72 329.05,283.59 329.25,286.47 329.46,289.32 329.66,292.12 329.86,294.87 330.06,297.52 330.27,300.07 330.47,302.5 330.67,304.78 330.88,306.9 331.08,308.84 331.28,310.59 331.48,312.14 331.69,313.46 331.89,314.56 332.09,315.43 332.29,316.05 332.5,316.43 332.7,316.55 332.93,312.34 333.15,302.17 333.38,292 333.6,287.79 333.81,287.85 334.03,288.05 334.24,288.36 334.45,288.78 334.67,289.29 334.88,289.86 335.09,290.47 335.31,291.1 335.52,291.71 335.73,292.28 335.95,292.79 336.16,293.21 336.37,293.52 336.59,293.72 336.8,293.78 337,293.74 337.2,293.61 337.4,293.4 337.6,293.1 337.8,292.72 338,292.27 338.2,291.73 338.4,291.11 338.6,290.42 338.8,289.66 339,288.83 339.2,287.93 339.4,286.98 339.6,285.96 339.8,284.89 340,283.77 340.2,282.6 340.4,281.39 340.6,280.15 340.8,278.87 341,277.57 341.2,276.25 341.4,274.91 341.6,273.56 341.8,272.21 342,270.85 342.2,269.5 342.4,268.17 342.6,266.84 342.8,265.54 343,264.27 343.2,263.02 343.4,261.82 343.6,260.65 343.8,259.53 344,258.46 344.2,257.44 344.4,256.48 344.6,255.59 344.8,254.76 345,253.99 345.2,253.3 345.4,252.69 345.6,252.15 345.8,251.69 346,251.31 346.2,251.02 346.4,250.81 346.6,250.68 346.8,250.64 347,250.75 347.21,251.09 347.41,251.65 347.61,252.44 347.81,253.44 348.02,254.64 348.22,256.05 348.42,257.65 348.62,259.43 348.83,261.37 349.03,263.47 349.23,265.7 349.43,268.06 349.64,270.53 349.84,273.09 350.04,275.73 350.24,278.42 350.45,281.15 350.65,283.89 350.85,286.64 351.06,289.37 351.26,292.06 351.46,294.69 351.66,297.25 351.87,299.72 352.07,302.08 352.27,304.32 352.47,306.42 352.68,308.36 352.88,310.14 353.08,311.74 353.28,313.14 353.49,314.35 353.69,315.35 353.89,316.13 354.09,316.7 354.3,317.04 354.5,317.15 354.73,312.85 354.95,302.47 355.18,292.09 355.4,287.79 355.61,287.85 355.83,288.05 356.04,288.36 356.25,288.78 356.47,289.29 356.68,289.86 356.89,290.47 357.11,291.1 357.32,291.71 357.53,292.28 357.75,292.79 357.96,293.21 358.17,293.52 358.39,293.72 358.6,293.78 358.8,293.74 359,293.61 359.2,293.4 359.4,293.1 359.6,292.72 359.8,292.27 360,291.73 360.2,291.11 360.4,290.42 360.6,289.66 360.8,288.83 361,287.93 361.2,286.98 361.4,285.96 361.6,284.89 361.8,283.77 362,282.6 362.2,281.39 362.4,280.15 362.6,278.87 362.8,277.57 363,276.25 363.2,274.91 363.4,273.56 363.6,272.21 363.8,270.85 364,269.5 364.2,268.17 364.4,266.84 364.6,265.54 364.8,264.27 365,263.02 365.2,261.82 365.4,260.65 365.6,259.53 365.8,258.46 366,257.44 366.2,256.48 366.4,255.59 366.6,254.76 366.8,253.99 367,253.3 367.2,252.69 367.4,252.15 367.6,251.69 367.8,251.31 368,251.02 368.2,250.81 368.4,250.68 368.6,250.64 368.81,250.75 369.01,251.09 369.22,251.64 369.42,252.42 369.63,253.41 369.83,254.61 370.04,256 370.24,257.59 370.45,259.35 370.65,261.27 370.86,263.35 371.06,265.57 371.27,267.91 371.47,270.35 371.68,272.89 371.88,275.5 372.09,278.17 372.29,280.87 372.5,283.59 372.71,286.32 372.91,289.02 373.12,291.68 373.32,294.3 373.53,296.83 373.73,299.28 373.94,301.62 374.14,303.84 374.35,305.92 374.55,307.84 374.76,309.6 374.96,311.18 375.17,312.58 375.37,313.78 375.58,314.77 375.78,315.54 375.99,316.1 376.19,316.44 376.4,316.55 376.62,312.34 376.85,302.17 377.07,292 377.3,287.79 377.51,287.85 377.73,288.05 377.94,288.36 378.15,288.78 378.37,289.29 378.58,289.86 378.79,290.47 379.01,291.1 379.22,291.71 379.43,292.28 379.65,292.79 379.86,293.21 380.07,293.52 380.29,293.72 380.5,293.78 380.7,293.74 380.9,293.61 381.1,293.4 381.3,293.1 381.5,292.72 381.7,292.27 381.9,291.73 382.1,291.11 382.3,290.42 382.5,289.66 382.7,288.83 382.9,287.93 383.1,286.98 383.3,285.96 383.5,284.89 383.7,283.77 383.9,282.6 384.1,281.39 384.3,280.15 384.5,278.87 384.7,277.57 384.9,276.25 385.1,274.91 385.3,273.56 385.5,272.21 385.7,270.85 385.9,269.5 386.1,268.17 386.3,266.84 386.5,265.54 386.7,264.27 386.9,263.02 387.1,261.82 387.3,260.65 387.5,259.53 387.7,258.46 387.9,257.44 388.1,256.48 388.3,255.59 388.5,254.76 388.7,253.99 388.9,253.3 389.1,252.69 389.3,252.15 389.5,251.69 389.7,251.31 389.9,251.02 390.1,250.81 390.3,250.68 390.5,250.64 390.71,250.76 390.91,251.13 391.12,251.75 391.32,252.6 391.53,253.69 391.73,255.01 391.94,256.54 392.14,258.28 392.35,260.22 392.55,262.33 392.76,264.6 392.96,267.03 393.17,269.58 393.38,272.24 393.58,275 393.79,277.83 393.99,280.72 394.2,283.63 394.4,286.55 394.61,289.47 394.81,292.35 395.02,295.18 395.22,297.94 395.43,300.6 395.64,303.16 395.84,305.58 396.05,307.86 396.25,309.97 396.46,311.9 396.66,313.64 396.87,315.17 397.07,316.49 397.28,317.58 397.48,318.44 397.69,319.05 397.89,319.42 398.1,319.55 398.32,314.9 398.55,303.67 398.77,292.44 399,287.79 399.21,287.85 399.43,288.05 399.64,288.36 399.85,288.78 400.07,289.29 400.28,289.86 400.49,290.47 400.71,291.1 400.92,291.71 401.13,292.28 401.35,292.79 401.56,293.21 401.77,293.52 401.99,293.72 402.2,293.78 402.4,293.74 402.6,293.61 402.8,293.4 403,293.1 403.2,292.72 403.4,292.27 403.6,291.73 403.8,291.11 404,290.42 404.2,289.66 404.4,288.83 404.6,287.93 404.8,286.98 405,285.96 405.2,284.89 405.4,283.77 405.6,282.6 405.8,281.39 406,280.15 406.2,278.87 406.4,277.57 406.6,276.25 406.8,274.91 407,273.56 407.2,272.21 407.4,270.85 407.6,269.5 407.8,268.17 408,266.84 408.2,265.54 408.4,264.27 408.6,263.02 408.8,261.82 409,260.65 409.2,259.53 409.4,258.46 409.6,257.44 409.8,256.48 410,255.59 410.2,254.76 410.4,253.99 410.6,253.3 410.8,252.69 411,252.15 411.2,251.69 411.4,251.31 411.6,251.02 411.8,250.81 412,250.68 412.2,250.64 412.4,250.74 412.61,251.06 412.81,251.6 413.01,252.34 413.21,253.28 413.41,254.42 413.62,255.76 413.82,257.27 414.02,258.96 414.23,260.82 414.43,262.82 414.63,264.96 414.83,267.23 415.03,269.61 415.24,272.09 415.44,274.65 415.64,277.28 415.85,279.95 416.05,282.66 416.25,285.39 416.45,288.12 416.65,290.83 416.86,293.51 417.06,296.13 417.26,298.69 417.47,301.17 417.67,303.55 417.87,305.82 418.07,307.96 418.27,309.97 418.48,311.82 418.68,313.51 418.88,315.03 419.09,316.36 419.29,317.5 419.49,318.45 419.69,319.19 419.89,319.72 420.1,320.04 420.3,320.15 420.53,315.41 420.75,303.97 420.98,292.53 421.2,287.79 421.41,287.85 421.63,288.05 421.84,288.36 422.05,288.78 422.27,289.29 422.48,289.86 422.69,290.47 422.91,291.1 423.12,291.71 423.33,292.28 423.55,292.79 423.76,293.21 423.97,293.52 424.19,293.72 424.4,293.78 424.6,293.74 424.8,293.61 425,293.4 425.2,293.1 425.4,292.72 425.6,292.27 425.8,291.73 426,291.11 426.2,290.42 426.4,289.66 426.6,288.83 426.8,287.93 427,286.98 427.2,285.96 427.4,284.89 427.6,283.77 427.8,282.6 428,281.39 428.2,280.15 428.4,278.87 428.6,277.57 428.8,276.25 429,274.91 429.2,273.56 429.4,272.21 429.6,270.85 429.8,269.5 430,268.17 430.2,266.84 430.4,265.54 430.6,264.27 430.8,263.02 431,261.82 431.2,260.65 431.4,259.53 431.6,258.46 431.8,257.44 432,256.48 432.2,255.59 432.4,254.76 432.6,253.99 432.8,253.3 433,252.69 433.2,252.15 433.4,251.69 433.6,251.31 433.8,251.02 434,250.81 434.2,250.68 434.4,250.64 434.6,250.76 434.81,251.13 435.01,251.74 435.21,252.58 435.41,253.66 435.62,254.97 435.82,256.49 436.02,258.22 436.22,260.14 436.43,262.24 436.63,264.51 436.83,266.93 437.03,269.48 437.24,272.15 437.44,274.92 437.64,277.76 437.84,280.67 438.05,283.62 438.25,286.59 438.45,289.56 438.66,292.51 438.86,295.42 439.06,298.26 439.26,301.03 439.47,303.7 439.67,306.25 439.87,308.67 440.07,310.94 440.28,313.04 440.48,314.96 440.68,316.69 440.88,318.21 441.09,319.52 441.29,320.6 441.49,321.44 441.69,322.05 441.9,322.42 442.1,322.54 442.32,317.45 442.55,305.17 442.77,292.88 443,287.79 443.21,287.85 443.43,288.05 443.64,288.36 443.85,288.78 444.07,289.29 444.28,289.86 444.49,290.47 444.71,291.1 444.92,291.71 445.13,292.28 445.35,292.79 445.56,293.21 445.77,293.52 445.99,293.72 446.2,293.78 446.4,293.74 446.6,293.61 446.8,293.4 447,293.1 447.2,292.72 447.4,292.27 447.6,291.73 447.8,291.11 448,290.42 448.2,289.66 448.4,288.83 448.6,287.93 448.8,286.98 449,285.96 449.2,284.89 449.4,283.77 449.6,282.6 449.8,281.39 450,280.15 450.2,278.87 450.4,277.57 450.6,276.25 450.8,274.91 451,273.56 451.2,272.21 451.4,270.85 451.6,269.5 451.8,268.17 452,266.84 452.2,265.54 452.4,264.27 452.6,263.02 452.8,261.82 453,260.65 453.2,259.53 453.4,258.46 453.6,257.44 453.8,256.48 454,255.59 454.2,254.76 454.4,253.99 454.6,253.3 454.8,252.69 455,252.15 455.2,251.69 455.4,251.31 455.6,251.02 455.8,250.81 456,250.68 456.2,250.64 456.4,250.75 456.61,251.1 456.81,251.67 457.01,252.47 457.21,253.49 457.42,254.72 457.62,256.16 457.82,257.79 458.02,259.6 458.23,261.59 458.43,263.74 458.63,266.04 458.83,268.46 459.04,271.01 459.24,273.65 459.44,276.37 459.64,279.16 459.85,281.99 460.05,284.85 460.25,287.73 460.45,290.59 460.66,293.42 460.86,296.21 461.06,298.93 461.26,301.58 461.47,304.12 461.67,306.54 461.87,308.84 462.07,310.99 462.28,312.98 462.48,314.79 462.68,316.42 462.88,317.86 463.09,319.09 463.29,320.11 463.49,320.91 463.69,321.48 463.9,321.83 464.1,321.94 464.32,316.94 464.55,304.87 464.77,292.79 465,287.79 465.21,287.85 465.43,288.05 465.64,288.36 465.85,288.78 466.07,289.29 466.28,289.86 466.49,290.47 466.71,291.1 466.92,291.71 467.13,292.28 467.35,292.79 467.56,293.21 467.77,293.52 467.99,293.72 468.2,293.78 468.4,293.74 468.6,293.61 468.8,293.4 469,293.1 469.2,292.72 469.4,292.27 469.6,291.73 469.8,291.11 470,290.42 470.2,289.66 470.4,288.83 470.6,287.93 470.8,286.98 471,285.96 471.2,284.89 471.4,283.77 471.6,282.6 471.8,281.39 472,280.15 472.2,278.87 472.4,277.57 472.6,276.25 472.8,274.91 473,273.56 473.2,272.21 473.4,270.85 473.6,269.5 473.8,268.17 474,266.84 474.2,265.54 474.4,264.27 474.6,263.02 474.8,261.82 475,260.65 475.2,259.53 475.4,258.46 475.6,257.44 475.8,256.48 476,255.59 476.2,254.76 476.4,253.99 476.6,253.3 476.8,252.69 477,252.15 477.2,251.69 477.4,251.31 477.6,251.02 477.8,250.81 478,250.68 478.2,250.64 478.4,250.88 478.6,251.59 478.8,252.76 479,254.35 479.2,256.31 479.4,258.58 479.6,261.08 479.8,263.76 480,266.52 480.2,269.27 480.4,271.95 480.6,274.46 480.8,276.72 481,278.68 481.2,280.27 481.4,281.44 481.6,282.15 481.8,282.4" fill="none" stroke="#3434b4" stroke-width="1.2" stroke-linejoin="round" />
<polyline points="377.07,265.6 377.3,269.81 377.51,269.75 377.73,269.55 377.94,269.24 378.15,268.82 378.37,268.31 378.58,267.74 378.79,267.13 379.01,266.5 379.22,265.89 379.43,265.32 379.65,264.81 379.86,264.39 380.07,264.08 380.29,263.88 380.5,263.82 380.7,263.86 380.9,263.99 381.1,264.2 381.3,264.5 381.5,264.88 381.7,265.33 381.9,265.87 382.1,266.49 382.3,267.18 382.5,267.94 382.7,268.77 382.9,269.67 383.1,270.62 383.3,271.64 383.5,272.71 383.7,273.83 383.9,275 384.1,276.21 384.3,277.45 384.5,278.73" fill="none" stroke="#3434b4" stroke-width="1.2" stroke-linejoin="round" stroke-dasharray="1.5 1.2"/>
<polyline points="393.99,276.88 394.2,273.97 394.4,271.05 394.61,268.13 394.81,265.25 395.02,262.42 395.22,259.66 395.43,257 395.64,254.44 395.84,252.02 396.05,249.74 396.25,247.63 396.46,245.7 396.66,243.96 396.87,242.43 397.07,241.11 397.28,240.02 397.48,239.16 397.69,238.55 397.89,238.18 398.1,238.05" fill="none" stroke="#3434b4" stroke-width="1.2" stroke-linejoin="round" stroke-dasharray="1.5 1.2"/>
<line x1="398.2" y1="239.25" x2="398.2" y2="278.8" stroke="#3434b4" stroke-width="1.2" stroke-dasharray="1.5 1.2"/>
<polyline points="291.5,279.46 291.9,279.55 292.3,279.63 292.7,279.69 293.1,279.75 293.5,279.79 293.9,279.82 294.3,279.84 294.7,279.84 295.1,279.83 295.5,279.8 295.9,279.76 296.3,279.71 296.7,279.65 297.1,279.57 297.5,279.49 297.9,279.39 298.3,279.29 298.7,279.18 299.1,279.07 299.5,278.95 299.9,278.83 300.3,278.71 300.7,278.59 301.1,278.48 301.5,278.36 301.9,278.26 302.3,278.16 302.7,278.07 303.1,277.99 303.5,277.92 303.9,277.86 304.3,277.82 304.7,277.79 305.1,277.77 305.5,277.76 305.9,277.77 306.3,277.79 306.7,277.83 307.1,277.88 307.5,277.94 307.9,278.01 308.3,278.09 308.7,278.79 309.1,278.85 309.5,278.59 309.9,278.05 310.3,277.44 310.7,277.1 311.1,277.41 311.5,278.59 311.9,280.13 312.3,280.85 312.7,280.79 313.1,280.24 313.5,279.61 313.9,279.17 314.3,279.04 314.7,279.19 315.1,279.49 315.5,279.79 315.9,279.83 316.3,279.84 316.7,279.83 317.1,279.81 317.5,279.78 317.9,279.74 318.3,279.68 318.7,279.61 319.1,279.53 319.5,279.44 319.9,279.34 320.3,279.24 320.7,279.12 321.1,279.01 321.5,278.89 321.9,278.77 322.3,278.65 322.7,278.53 323.1,278.42 323.5,278.31 323.9,278.21 324.3,278.11 324.7,278.03 325.1,277.95 325.5,277.89 325.9,277.84 326.3,277.8 326.7,277.77 327.1,277.76 327.5,277.76 327.9,277.78 328.3,277.81 328.7,277.85 329.1,277.91 329.5,277.97 329.9,278.05 330.3,278.76 330.7,278.66 331.1,278.24 331.5,277.62 331.9,277.09 332.3,277.03 332.7,277.77 333.1,279.31 333.5,280.49 333.9,280.79 334.3,280.45 334.7,279.82 335.1,279.27 335.5,278.99 335.9,279.02 336.3,279.27 336.7,279.6 337.1,279.79 337.5,279.82 337.9,279.84 338.3,279.84 338.7,279.83 339.1,279.8 339.5,279.76 339.9,279.71 340.3,279.65 340.7,279.57 341.1,279.49 341.5,279.39 341.9,279.29 342.3,279.18 342.7,279.07 343.1,278.95 343.5,278.83 343.9,278.71 344.3,278.59 344.7,278.48 345.1,278.36 345.5,278.26 345.9,278.16 346.3,278.07 346.7,277.99 347.1,277.92 347.5,277.86 347.9,277.82 348.3,277.79 348.7,277.77 349.1,277.76 349.5,277.77 349.9,277.79 350.3,277.83 350.7,277.88 351.1,277.94 351.5,278.01 351.9,278.7 352.3,278.75 352.7,278.48 353.1,277.94 353.5,277.32 353.9,276.98 354.3,277.29 354.7,278.47 355.1,280.01 355.5,280.74 355.9,280.68 356.3,280.14 356.7,279.52 357.1,279.09 357.5,278.97 357.9,279.13 358.3,279.44 358.7,279.76 359.1,279.81 359.5,279.83 359.9,279.84 360.3,279.83 360.7,279.81 361.1,279.78 361.5,279.74 361.9,279.68 362.3,279.61 362.7,279.53 363.1,279.44 363.5,279.34 363.9,279.24 364.3,279.12 364.7,279.01 365.1,278.89 365.5,278.77 365.9,278.65 366.3,278.53 366.7,278.42 367.1,278.31 367.5,278.21 367.9,278.11 368.3,278.03 368.7,277.95 369.1,277.89 369.5,277.84 369.9,277.8 370.3,277.77 370.7,277.76 371.1,277.76 371.5,277.78 371.9,277.81 372.3,277.85 372.7,277.91 373.1,277.97 373.5,278.05 373.9,278.76 374.3,278.74 374.7,278.39 375.1,277.81 375.5,277.22 375.9,277.01 376.3,277.53 376.7,278.92 377.1,280.31 377.5,280.82 377.9,280.6 378.3,280.01 378.7,279.41 379.1,279.05 379.5,279 379.9,279.21 380.3,279.53 380.7,279.83 381.1,279.82 381.5,279.84 381.9,279.84 382.3,279.83 382.7,279.8 383.1,279.76 383.5,279.71 383.9,279.65 384.3,279.57 384.7,279.49 385.1,279.39 385.5,279.29 385.9,279.18 386.3,279.07 386.7,278.95 387.1,278.83 387.5,278.71 387.9,278.59 388.3,278.48 388.7,278.36 389.1,278.26 389.5,278.16 389.9,278.07 390.3,277.99 390.7,277.92 391.1,277.86 391.5,277.82 391.9,277.79 392.3,277.77 392.7,277.76 393.1,277.77 393.5,277.79 393.9,277.83 394.3,277.88 394.7,277.94 395.1,278.01 395.5,278.7 395.9,278.75 396.3,278.48 396.7,277.94 397.1,277.32 397.5,276.98 397.9,277.29 398.3,278.47 398.7,280.01 399.1,280.74 399.5,280.68 399.9,280.14 400.3,279.52 400.7,279.09 401.1,278.97 401.5,279.13 401.9,279.44 402.3,279.76 402.7,279.81 403.1,279.83 403.5,279.84 403.9,279.83 404.3,279.81 404.7,279.78 405.1,279.74 405.5,279.68 405.9,279.61 406.3,279.53 406.7,279.44 407.1,279.34 407.5,279.24 407.9,279.12 408.3,279.01 408.7,278.89 409.1,278.77 409.5,278.65 409.9,278.53 410.3,278.42 410.7,278.31 411.1,278.21 411.5,278.11 411.9,278.03 412.3,277.95 412.7,277.89 413.1,277.84 413.5,277.8 413.9,277.77 414.3,277.76 414.7,277.76 415.1,277.78 415.5,277.81 415.9,277.85 416.3,277.91 416.7,277.97 417.1,278.05 417.5,278.14 417.9,278.86 418.3,278.76 418.7,278.35 419.1,277.73 419.5,277.21 419.9,277.15 420.3,277.89 420.7,279.43 421.1,280.6 421.5,280.9 421.9,280.55 422.3,279.92 422.7,279.35 423.1,279.06 423.5,279.09 423.9,279.33 424.3,279.65 424.7,279.82 425.1,279.84 425.5,279.84 425.9,279.83 426.3,279.8 426.7,279.76 427.1,279.71 427.5,279.65 427.9,279.57 428.3,279.49 428.7,279.39 429.1,279.29 429.5,279.18 429.9,279.07 430.3,278.95 430.7,278.83 431.1,278.71 431.5,278.59 431.9,278.48 432.3,278.36 432.7,278.26 433.1,278.16 433.5,278.07 433.9,277.99 434.3,277.92 434.7,277.86 435.1,277.82 435.5,277.79 435.9,277.77 436.3,277.76 436.7,277.77 437.1,277.79 437.5,277.83 437.9,277.88 438.3,277.94 438.7,278.01 439.1,278.09 439.5,278.79 439.9,278.85 440.3,278.59 440.7,278.05 441.1,277.44 441.5,277.1 441.9,277.41 442.3,278.59 442.7,280.13 443.1,280.85 443.5,280.79 443.9,280.24 444.3,279.61 444.7,279.17 445.1,279.04 445.5,279.19 445.9,279.49 446.3,279.79 446.7,279.83 447.1,279.84 447.5,279.83 447.9,279.81 448.3,279.78 448.7,279.74 449.1,279.68 449.5,279.61 449.9,279.53 450.3,279.44 450.7,279.34 451.1,279.24 451.5,279.12 451.9,279.01 452.3,278.89 452.7,278.77 453.1,278.65 453.5,278.53 453.9,278.42 454.3,278.31 454.7,278.21 455.1,278.11 455.5,278.03 455.9,277.95 456.3,277.89 456.7,277.84 457.1,277.8 457.5,277.77 457.9,277.76 458.3,277.76 458.7,277.78 459.1,277.81 459.5,277.85 459.9,277.91 460.3,277.97 460.7,278.05 461.1,278.14 461.5,278.84 461.9,278.9 462.3,278.64 462.7,278.11 463.1,277.5 463.5,277.16 463.9,277.47 464.3,278.64 464.7,280.18 465.1,280.91 465.5,280.84 465.9,280.29 466.3,279.65 466.7,279.21 467.1,279.07 467.5,279.21 467.9,279.51 468.3,279.8 468.7,279.84 469.1,279.84 469.5,279.83 469.9,279.8 470.3,279.76 470.7,279.71 471.1,279.65 471.5,279.57 471.9,279.49 472.3,279.39 472.7,279.29 473.1,279.18 473.5,279.07 473.9,278.95 474.3,278.83 474.7,278.71 475.1,278.59 475.5,278.48 475.9,278.36 476.3,278.26 476.7,278.16 477.1,278.07 477.5,277.99 477.9,277.92 478.3,277.86 478.7,277.82 479.1,277.79 479.5,277.77 479.9,277.76 480.3,277.77 480.7,277.79 481.1,277.83 481.5,277.88" fill="none" stroke="#e8485c" stroke-width="1.1" stroke-linejoin="round" />
<line x1="311.6" y1="225.83" x2="311.6" y2="335.41" stroke="#cc6272" stroke-width="1.4"/>
<line x1="333" y1="225.83" x2="333" y2="335.41" stroke="#cc6272" stroke-width="1.4"/>
<line x1="354.8" y1="225.83" x2="354.8" y2="335.41" stroke="#cc6272" stroke-width="1.4"/>
<line x1="376.7" y1="225.83" x2="376.7" y2="335.41" stroke="#cc6272" stroke-width="1.4"/>
<line x1="398.4" y1="225.83" x2="398.4" y2="335.41" stroke="#cc6272" stroke-width="1.4"/>
<line x1="420.6" y1="225.83" x2="420.6" y2="335.41" stroke="#cc6272" stroke-width="1.4"/>
<line x1="442.4" y1="225.83" x2="442.4" y2="335.41" stroke="#cc6272" stroke-width="1.4"/>
<line x1="464.4" y1="225.83" x2="464.4" y2="335.41" stroke="#cc6272" stroke-width="1.4"/>
<line x1="377.0" y1="278.4" x2="398.4" y2="238.2" stroke="#1f8a1f" stroke-width="1.25"/>
<line x1="291.5" y1="200.9" x2="481.8" y2="200.9" stroke="#7a7a7a" stroke-width="1"/>
<line x1="291.5" y1="356.7" x2="481.8" y2="356.7" stroke="#7a7a7a" stroke-width="1"/>
<line x1="291.5" y1="200.9" x2="291.5" y2="356.7" stroke="#6b6bea" stroke-width="1.2"/>
<line x1="481.8" y1="200.9" x2="481.8" y2="356.7" stroke="#e07070" stroke-width="1"/>
<line x1="291.5" y1="356.7" x2="291.5" y2="354.2" stroke="#7a7a7a" stroke-width="0.8"/>
<line x1="291.5" y1="200.9" x2="291.5" y2="203.4" stroke="#7a7a7a" stroke-width="0.8"/>
<text x="291.5" y="370.9" font-size="10" fill="#404040" stroke="#404040" stroke-width="0.25" font-family="'Liberation Sans', Arial, sans-serif" text-anchor="middle" >0</text>
<line x1="329.56" y1="356.7" x2="329.56" y2="354.2" stroke="#7a7a7a" stroke-width="0.8"/>
<line x1="329.56" y1="200.9" x2="329.56" y2="203.4" stroke="#7a7a7a" stroke-width="0.8"/>
<text x="329.56" y="370.9" font-size="10" fill="#404040" stroke="#404040" stroke-width="0.25" font-family="'Liberation Sans', Arial, sans-serif" text-anchor="middle" >0.2</text>
<line x1="367.62" y1="356.7" x2="367.62" y2="354.2" stroke="#7a7a7a" stroke-width="0.8"/>
<line x1="367.62" y1="200.9" x2="367.62" y2="203.4" stroke="#7a7a7a" stroke-width="0.8"/>
<text x="367.62" y="370.9" font-size="10" fill="#404040" stroke="#404040" stroke-width="0.25" font-family="'Liberation Sans', Arial, sans-serif" text-anchor="middle" >0.4</text>
<line x1="405.68" y1="356.7" x2="405.68" y2="354.2" stroke="#7a7a7a" stroke-width="0.8"/>
<line x1="405.68" y1="200.9" x2="405.68" y2="203.4" stroke="#7a7a7a" stroke-width="0.8"/>
<text x="405.68" y="370.9" font-size="10" fill="#404040" stroke="#404040" stroke-width="0.25" font-family="'Liberation Sans', Arial, sans-serif" text-anchor="middle" >0.6</text>
<line x1="443.74" y1="356.7" x2="443.74" y2="354.2" stroke="#7a7a7a" stroke-width="0.8"/>
<line x1="443.74" y1="200.9" x2="443.74" y2="203.4" stroke="#7a7a7a" stroke-width="0.8"/>
<text x="443.74" y="370.9" font-size="10" fill="#404040" stroke="#404040" stroke-width="0.25" font-family="'Liberation Sans', Arial, sans-serif" text-anchor="middle" >0.8</text>
<line x1="481.8" y1="356.7" x2="481.8" y2="354.2" stroke="#7a7a7a" stroke-width="0.8"/>
<line x1="481.8" y1="200.9" x2="481.8" y2="203.4" stroke="#7a7a7a" stroke-width="0.8"/>
<text x="481.8" y="370.9" font-size="10" fill="#404040" stroke="#404040" stroke-width="0.25" font-family="'Liberation Sans', Arial, sans-serif" text-anchor="middle" >1</text>
<line x1="291.5" y1="218.88" x2="294.3" y2="218.88" stroke="#505070" stroke-width="0.8"/>
<text x="287.5" y="223.18" font-size="10" fill="#3535b5" stroke="#3535b5" stroke-width="0.25" font-family="'Liberation Sans', Arial, sans-serif" text-anchor="end" >10</text>
<line x1="291.5" y1="248.84" x2="294.3" y2="248.84" stroke="#505070" stroke-width="0.8"/>
<text x="287.5" y="253.14" font-size="10" fill="#3535b5" stroke="#3535b5" stroke-width="0.25" font-family="'Liberation Sans', Arial, sans-serif" text-anchor="end" >5</text>
<line x1="291.5" y1="278.8" x2="294.3" y2="278.8" stroke="#505070" stroke-width="0.8"/>
<text x="287.5" y="283.1" font-size="10" fill="#3535b5" stroke="#3535b5" stroke-width="0.25" font-family="'Liberation Sans', Arial, sans-serif" text-anchor="end" >0</text>
<line x1="291.5" y1="308.76" x2="294.3" y2="308.76" stroke="#505070" stroke-width="0.8"/>
<text x="287.5" y="313.06" font-size="10" fill="#3535b5" stroke="#3535b5" stroke-width="0.25" font-family="'Liberation Sans', Arial, sans-serif" text-anchor="end" >-5</text>
<line x1="291.5" y1="338.72" x2="294.3" y2="338.72" stroke="#505070" stroke-width="0.8"/>
<text x="287.5" y="343.02" font-size="10" fill="#3535b5" stroke="#3535b5" stroke-width="0.25" font-family="'Liberation Sans', Arial, sans-serif" text-anchor="end" >-10</text>
<line x1="479.0" y1="200.9" x2="481.8" y2="200.9" stroke="#707070" stroke-width="0.8"/>
<text x="485.3" y="205.1" font-size="10" fill="#d83a3a" stroke="#d83a3a" stroke-width="0.25" font-family="'Liberation Sans', Arial, sans-serif" text-anchor="start" >1.5</text>
<line x1="479.0" y1="226.87" x2="481.8" y2="226.87" stroke="#707070" stroke-width="0.8"/>
<text x="485.3" y="231.07" font-size="10" fill="#d83a3a" stroke="#d83a3a" stroke-width="0.25" font-family="'Liberation Sans', Arial, sans-serif" text-anchor="start" >1</text>
<line x1="479.0" y1="252.83" x2="481.8" y2="252.83" stroke="#707070" stroke-width="0.8"/>
<text x="485.3" y="257.03" font-size="10" fill="#d83a3a" stroke="#d83a3a" stroke-width="0.25" font-family="'Liberation Sans', Arial, sans-serif" text-anchor="start" >0.5</text>
<line x1="479.0" y1="278.8" x2="481.8" y2="278.8" stroke="#707070" stroke-width="0.8"/>
<text x="485.3" y="283" font-size="10" fill="#d83a3a" stroke="#d83a3a" stroke-width="0.25" font-family="'Liberation Sans', Arial, sans-serif" text-anchor="start" >0</text>
<line x1="479.0" y1="304.77" x2="481.8" y2="304.77" stroke="#707070" stroke-width="0.8"/>
<text x="485.3" y="308.97" font-size="10" fill="#d83a3a" stroke="#d83a3a" stroke-width="0.25" font-family="'Liberation Sans', Arial, sans-serif" text-anchor="start" >-0.5</text>
<line x1="479.0" y1="330.73" x2="481.8" y2="330.73" stroke="#707070" stroke-width="0.8"/>
<text x="485.3" y="334.93" font-size="10" fill="#d83a3a" stroke="#d83a3a" stroke-width="0.25" font-family="'Liberation Sans', Arial, sans-serif" text-anchor="start" >-1</text>
<line x1="479.0" y1="356.7" x2="481.8" y2="356.7" stroke="#707070" stroke-width="0.8"/>
<text x="485.3" y="360.9" font-size="10" fill="#d83a3a" stroke="#d83a3a" stroke-width="0.25" font-family="'Liberation Sans', Arial, sans-serif" text-anchor="start" >-1.5</text>
<text x="294.7" y="212.7" font-size="11.6" fill="#202020" stroke="#202020" stroke-width="0.35" font-family="'Liberation Serif', 'Times New Roman', serif" text-anchor="start" >(c)</text>
<text x="386.65" y="383.7" font-size="11.5" fill="#404040" stroke="#404040" stroke-width="0.25" font-family="'Liberation Serif', 'Times New Roman', serif" text-anchor="middle" >Time (ms)</text>
<text x="385.9" y="216.2" font-size="11.4" font-style="italic" fill="#4a9a4a" stroke="#4a9a4a" stroke-width="0.2" font-family="'Liberation Serif', 'Times New Roman', serif">V</text>
<text x="398.9" y="215.9" font-size="11" fill="#4a9a4a" stroke="#4a9a4a" stroke-width="0.2" font-family="'Liberation Serif', 'Times New Roman', serif">&#8776;</text>
<text x="408.3" y="216.2" font-size="11" fill="#4a9a4a" stroke="#4a9a4a" stroke-width="0.2" font-family="'Liberation Serif', 'Times New Roman', serif">60.42</text>
<text x="437.5" y="216.2" font-size="11.2" textLength="33.6" lengthAdjust="spacing" fill="#4a9a4a" stroke="#4a9a4a" stroke-width="0.2" font-family="'Liberation Serif', 'Times New Roman', serif">kV/ms</text>
<circle cx="388.9" cy="205.9" r="0.7" fill="#4a9a4a"/>
<text x="0" y="0" font-size="11.5" fill="#3535b5" stroke="#3535b5" stroke-width="0.25" font-family="'Liberation Serif', 'Times New Roman', serif" text-anchor="middle" dominant-baseline="central" transform="translate(263.8 279) rotate(-90)">Voltage (kV)</text>
<text x="0" y="0" font-size="11.5" fill="#d83a3a" stroke="#d83a3a" stroke-width="0.25" font-family="'Liberation Serif', 'Times New Roman', serif" text-anchor="middle" dominant-baseline="central" transform="translate(510 279.4) rotate(-90)">Current (A)</text>
<rect x="35" y="396.9" width="190.4" height="156.1" fill="none" stroke="#7a7a7a" stroke-width="1"/>
<line x1="35" y1="553" x2="35" y2="550.5" stroke="#7a7a7a" stroke-width="0.8"/>
<line x1="35" y1="396.9" x2="35" y2="399.4" stroke="#7a7a7a" stroke-width="0.8"/>
<text x="35" y="567.2" font-size="10" fill="#404040" stroke="#404040" stroke-width="0.25" font-family="'Liberation Sans', Arial, sans-serif" text-anchor="middle" >50</text>
<line x1="73.08" y1="553" x2="73.08" y2="550.5" stroke="#7a7a7a" stroke-width="0.8"/>
<line x1="73.08" y1="396.9" x2="73.08" y2="399.4" stroke="#7a7a7a" stroke-width="0.8"/>
<text x="73.08" y="567.2" font-size="10" fill="#404040" stroke="#404040" stroke-width="0.25" font-family="'Liberation Sans', Arial, sans-serif" text-anchor="middle" >100</text>
<line x1="111.16" y1="553" x2="111.16" y2="550.5" stroke="#7a7a7a" stroke-width="0.8"/>
<line x1="111.16" y1="396.9" x2="111.16" y2="399.4" stroke="#7a7a7a" stroke-width="0.8"/>
<text x="111.16" y="567.2" font-size="10" fill="#404040" stroke="#404040" stroke-width="0.25" font-family="'Liberation Sans', Arial, sans-serif" text-anchor="middle" >150</text>
<line x1="149.24" y1="553" x2="149.24" y2="550.5" stroke="#7a7a7a" stroke-width="0.8"/>
<line x1="149.24" y1="396.9" x2="149.24" y2="399.4" stroke="#7a7a7a" stroke-width="0.8"/>
<text x="149.24" y="567.2" font-size="10" fill="#404040" stroke="#404040" stroke-width="0.25" font-family="'Liberation Sans', Arial, sans-serif" text-anchor="middle" >200</text>
<line x1="187.32" y1="553" x2="187.32" y2="550.5" stroke="#7a7a7a" stroke-width="0.8"/>
<line x1="187.32" y1="396.9" x2="187.32" y2="399.4" stroke="#7a7a7a" stroke-width="0.8"/>
<text x="187.32" y="567.2" font-size="10" fill="#404040" stroke="#404040" stroke-width="0.25" font-family="'Liberation Sans', Arial, sans-serif" text-anchor="middle" >250</text>
<line x1="225.4" y1="553" x2="225.4" y2="550.5" stroke="#7a7a7a" stroke-width="0.8"/>
<line x1="225.4" y1="396.9" x2="225.4" y2="399.4" stroke="#7a7a7a" stroke-width="0.8"/>
<text x="225.4" y="567.2" font-size="10" fill="#404040" stroke="#404040" stroke-width="0.25" font-family="'Liberation Sans', Arial, sans-serif" text-anchor="middle" >300</text>
<line x1="35" y1="553" x2="37.5" y2="553" stroke="#7a7a7a" stroke-width="0.8"/>
<line x1="222.9" y1="553" x2="225.4" y2="553" stroke="#7a7a7a" stroke-width="0.8"/>
<text x="31.5" y="557.3" font-size="10" fill="#404040" stroke="#404040" stroke-width="0.25" font-family="'Liberation Sans', Arial, sans-serif" text-anchor="end" >20</text>
<line x1="35" y1="518.31" x2="37.5" y2="518.31" stroke="#7a7a7a" stroke-width="0.8"/>
<line x1="222.9" y1="518.31" x2="225.4" y2="518.31" stroke="#7a7a7a" stroke-width="0.8"/>
<text x="31.5" y="522.61" font-size="10" fill="#404040" stroke="#404040" stroke-width="0.25" font-family="'Liberation Sans', Arial, sans-serif" text-anchor="end" >40</text>
<line x1="35" y1="483.62" x2="37.5" y2="483.62" stroke="#7a7a7a" stroke-width="0.8"/>
<line x1="222.9" y1="483.62" x2="225.4" y2="483.62" stroke="#7a7a7a" stroke-width="0.8"/>
<text x="31.5" y="487.92" font-size="10" fill="#404040" stroke="#404040" stroke-width="0.25" font-family="'Liberation Sans', Arial, sans-serif" text-anchor="end" >60</text>
<line x1="35" y1="448.93" x2="37.5" y2="448.93" stroke="#7a7a7a" stroke-width="0.8"/>
<line x1="222.9" y1="448.93" x2="225.4" y2="448.93" stroke="#7a7a7a" stroke-width="0.8"/>
<text x="31.5" y="453.23" font-size="10" fill="#404040" stroke="#404040" stroke-width="0.25" font-family="'Liberation Sans', Arial, sans-serif" text-anchor="end" >80</text>
<line x1="35" y1="414.24" x2="37.5" y2="414.24" stroke="#7a7a7a" stroke-width="0.8"/>
<line x1="222.9" y1="414.24" x2="225.4" y2="414.24" stroke="#7a7a7a" stroke-width="0.8"/>
<text x="31.5" y="418.54" font-size="10" fill="#404040" stroke="#404040" stroke-width="0.25" font-family="'Liberation Sans', Arial, sans-serif" text-anchor="end" >100</text>
<polyline points="65.77,539.12 83.13,526.98 100.42,512.93 117.71,493.68 134.62,475.3" fill="none" stroke="#3434cc" stroke-width="1.2" stroke-linejoin="round" />
<line x1="65.77" y1="532.36" x2="65.77" y2="546.41" stroke="#3434cc" stroke-width="1.1"/>
<line x1="61.27" y1="532.36" x2="70.27" y2="532.36" stroke="#3434cc" stroke-width="1.1"/>
<line x1="61.27" y1="546.41" x2="70.27" y2="546.41" stroke="#3434cc" stroke-width="1.1"/>
<rect x="62.77" y="536.12" width="6" height="6" fill="#0000ff"/>
<line x1="83.13" y1="518.83" x2="83.13" y2="536.18" stroke="#3434cc" stroke-width="1.1"/>
<line x1="78.63" y1="518.83" x2="87.63" y2="518.83" stroke="#3434cc" stroke-width="1.1"/>
<line x1="78.63" y1="536.18" x2="87.63" y2="536.18" stroke="#3434cc" stroke-width="1.1"/>
<rect x="80.13" y="523.98" width="6" height="6" fill="#0000ff"/>
<line x1="100.42" y1="498.54" x2="100.42" y2="528.54" stroke="#3434cc" stroke-width="1.1"/>
<line x1="95.92" y1="498.54" x2="104.92" y2="498.54" stroke="#3434cc" stroke-width="1.1"/>
<line x1="95.92" y1="528.54" x2="104.92" y2="528.54" stroke="#3434cc" stroke-width="1.1"/>
<rect x="97.42" y="509.93" width="6" height="6" fill="#0000ff"/>
<line x1="117.71" y1="472.7" x2="117.71" y2="516.92" stroke="#3434cc" stroke-width="1.1"/>
<line x1="113.21" y1="472.7" x2="122.21" y2="472.7" stroke="#3434cc" stroke-width="1.1"/>
<line x1="113.21" y1="516.92" x2="122.21" y2="516.92" stroke="#3434cc" stroke-width="1.1"/>
<rect x="114.71" y="490.68" width="6" height="6" fill="#0000ff"/>
<line x1="134.62" y1="463.68" x2="134.62" y2="487.96" stroke="#3434cc" stroke-width="1.1"/>
<line x1="130.12" y1="463.68" x2="139.12" y2="463.68" stroke="#3434cc" stroke-width="1.1"/>
<line x1="130.12" y1="487.96" x2="139.12" y2="487.96" stroke="#3434cc" stroke-width="1.1"/>
<rect x="131.62" y="472.3" width="6" height="6" fill="#0000ff"/>
<polyline points="117.71,492.81 134.62,482.06 152.29,476.16 169.57,469.75 187.55,451.19 204.84,440.95" fill="none" stroke="#d8323a" stroke-width="1.2" stroke-linejoin="round" />
<line x1="117.71" y1="480.33" x2="117.71" y2="504.61" stroke="#d8323a" stroke-width="1.1"/>
<line x1="113.21" y1="480.33" x2="122.21" y2="480.33" stroke="#d8323a" stroke-width="1.1"/>
<line x1="113.21" y1="504.61" x2="122.21" y2="504.61" stroke="#d8323a" stroke-width="1.1"/>
<rect x="114.71" y="489.81" width="6" height="6" fill="#ff0000"/>
<line x1="134.62" y1="464.89" x2="134.62" y2="500.79" stroke="#d8323a" stroke-width="1.1"/>
<line x1="130.12" y1="464.89" x2="139.12" y2="464.89" stroke="#d8323a" stroke-width="1.1"/>
<line x1="130.12" y1="500.79" x2="139.12" y2="500.79" stroke="#d8323a" stroke-width="1.1"/>
<rect x="131.62" y="479.06" width="6" height="6" fill="#ff0000"/>
<line x1="152.29" y1="453.44" x2="152.29" y2="499.58" stroke="#d8323a" stroke-width="1.1"/>
<line x1="147.79" y1="453.44" x2="156.79" y2="453.44" stroke="#d8323a" stroke-width="1.1"/>
<line x1="147.79" y1="499.58" x2="156.79" y2="499.58" stroke="#d8323a" stroke-width="1.1"/>
<rect x="149.29" y="473.16" width="6" height="6" fill="#ff0000"/>
<line x1="169.57" y1="437.14" x2="169.57" y2="503.39" stroke="#d8323a" stroke-width="1.1"/>
<line x1="165.07" y1="437.14" x2="174.07" y2="437.14" stroke="#d8323a" stroke-width="1.1"/>
<line x1="165.07" y1="503.39" x2="174.07" y2="503.39" stroke="#d8323a" stroke-width="1.1"/>
<rect x="166.57" y="466.75" width="6" height="6" fill="#ff0000"/>
<line x1="187.55" y1="413.72" x2="187.55" y2="489.17" stroke="#d8323a" stroke-width="1.1"/>
<line x1="183.05" y1="413.72" x2="192.05" y2="413.72" stroke="#d8323a" stroke-width="1.1"/>
<line x1="183.05" y1="489.17" x2="192.05" y2="489.17" stroke="#d8323a" stroke-width="1.1"/>
<rect x="184.55" y="448.19" width="6" height="6" fill="#ff0000"/>
<line x1="204.84" y1="407.31" x2="204.84" y2="475.3" stroke="#d8323a" stroke-width="1.1"/>
<line x1="200.34" y1="407.31" x2="209.34" y2="407.31" stroke="#d8323a" stroke-width="1.1"/>
<line x1="200.34" y1="475.3" x2="209.34" y2="475.3" stroke="#d8323a" stroke-width="1.1"/>
<rect x="201.84" y="437.95" width="6" height="6" fill="#ff0000"/>
<line x1="158.9" y1="524.7" x2="192.4" y2="524.7" stroke="#4040f0" stroke-width="1.2"/>
<line x1="171.9" y1="521.1" x2="179.4" y2="521.1" stroke="#4040f0" stroke-width="1.4"/>
<line x1="171.9" y1="528.3" x2="179.4" y2="528.3" stroke="#4040f0" stroke-width="1.4"/>
<rect x="172.6" y="521.5" width="6.2" height="6.4" fill="#0000ff"/>
<text x="196.2" y="528.1" font-size="9.3" fill="#303030" stroke="#303030" stroke-width="0.12" font-family="'Liberation Serif', 'Times New Roman', serif" text-anchor="start" >Air</text>
<line x1="158.9" y1="536.6" x2="192.4" y2="536.6" stroke="#f03030" stroke-width="1.2"/>
<line x1="171.9" y1="533" x2="179.4" y2="533" stroke="#f03030" stroke-width="1.4"/>
<line x1="171.9" y1="540.2" x2="179.4" y2="540.2" stroke="#f03030" stroke-width="1.4"/>
<rect x="172.6" y="533.4" width="6.2" height="6.4" fill="#ff0000"/>
<text x="196.2" y="540" font-size="9.3" fill="#303030" stroke="#303030" stroke-width="0.12" font-family="'Liberation Serif', 'Times New Roman', serif" text-anchor="start" >NH<tspan font-size="6.5" dy="2">3</tspan></text>
<text x="38.2" y="408.7" font-size="11.6" fill="#202020" stroke="#202020" stroke-width="0.35" font-family="'Liberation Serif', 'Times New Roman', serif" text-anchor="start" >(d)</text>
<text x="130.2" y="581" font-size="11.5" fill="#404040" stroke="#404040" stroke-width="0.25" font-family="'Liberation Serif', 'Times New Roman', serif" text-anchor="middle" >Power (W)</text>
<text x="0" y="0" font-size="11.5" fill="#404040" stroke="#404040" stroke-width="0.25" font-family="'Liberation Serif', 'Times New Roman', serif" text-anchor="middle" dominant-baseline="central" transform="translate(5.9 475.45) rotate(-90)">Voltage recovery rate (kV/ms)</text>
<rect x="291.5" y="396.9" width="190.4" height="156.2" fill="none" stroke="#7a7a7a" stroke-width="1"/>
<line x1="291.5" y1="553.1" x2="291.5" y2="550.6" stroke="#7a7a7a" stroke-width="0.8"/>
<line x1="291.5" y1="396.9" x2="291.5" y2="399.4" stroke="#7a7a7a" stroke-width="0.8"/>
<text x="291.5" y="567.3" font-size="10" fill="#404040" stroke="#404040" stroke-width="0.25" font-family="'Liberation Sans', Arial, sans-serif" text-anchor="middle" >50</text>
<line x1="329.58" y1="553.1" x2="329.58" y2="550.6" stroke="#7a7a7a" stroke-width="0.8"/>
<line x1="329.58" y1="396.9" x2="329.58" y2="399.4" stroke="#7a7a7a" stroke-width="0.8"/>
<text x="329.58" y="567.3" font-size="10" fill="#404040" stroke="#404040" stroke-width="0.25" font-family="'Liberation Sans', Arial, sans-serif" text-anchor="middle" >100</text>
<line x1="367.66" y1="553.1" x2="367.66" y2="550.6" stroke="#7a7a7a" stroke-width="0.8"/>
<line x1="367.66" y1="396.9" x2="367.66" y2="399.4" stroke="#7a7a7a" stroke-width="0.8"/>
<text x="367.66" y="567.3" font-size="10" fill="#404040" stroke="#404040" stroke-width="0.25" font-family="'Liberation Sans', Arial, sans-serif" text-anchor="middle" >150</text>
<line x1="405.74" y1="553.1" x2="405.74" y2="550.6" stroke="#7a7a7a" stroke-width="0.8"/>
<line x1="405.74" y1="396.9" x2="405.74" y2="399.4" stroke="#7a7a7a" stroke-width="0.8"/>
<text x="405.74" y="567.3" font-size="10" fill="#404040" stroke="#404040" stroke-width="0.25" font-family="'Liberation Sans', Arial, sans-serif" text-anchor="middle" >200</text>
<line x1="443.82" y1="553.1" x2="443.82" y2="550.6" stroke="#7a7a7a" stroke-width="0.8"/>
<line x1="443.82" y1="396.9" x2="443.82" y2="399.4" stroke="#7a7a7a" stroke-width="0.8"/>
<text x="443.82" y="567.3" font-size="10" fill="#404040" stroke="#404040" stroke-width="0.25" font-family="'Liberation Sans', Arial, sans-serif" text-anchor="middle" >250</text>
<line x1="481.9" y1="553.1" x2="481.9" y2="550.6" stroke="#7a7a7a" stroke-width="0.8"/>
<line x1="481.9" y1="396.9" x2="481.9" y2="399.4" stroke="#7a7a7a" stroke-width="0.8"/>
<text x="481.9" y="567.3" font-size="10" fill="#404040" stroke="#404040" stroke-width="0.25" font-family="'Liberation Sans', Arial, sans-serif" text-anchor="middle" >300</text>
<line x1="291.5" y1="542.33" x2="294.0" y2="542.33" stroke="#7a7a7a" stroke-width="0.8"/>
<line x1="479.4" y1="542.33" x2="481.9" y2="542.33" stroke="#7a7a7a" stroke-width="0.8"/>
<text x="288" y="546.63" font-size="10" fill="#404040" stroke="#404040" stroke-width="0.25" font-family="'Liberation Sans', Arial, sans-serif" text-anchor="end" >5</text>
<line x1="291.5" y1="488.47" x2="294.0" y2="488.47" stroke="#7a7a7a" stroke-width="0.8"/>
<line x1="479.4" y1="488.47" x2="481.9" y2="488.47" stroke="#7a7a7a" stroke-width="0.8"/>
<text x="288" y="492.77" font-size="10" fill="#404040" stroke="#404040" stroke-width="0.25" font-family="'Liberation Sans', Arial, sans-serif" text-anchor="end" >10</text>
<line x1="291.5" y1="434.6" x2="294.0" y2="434.6" stroke="#7a7a7a" stroke-width="0.8"/>
<line x1="479.4" y1="434.6" x2="481.9" y2="434.6" stroke="#7a7a7a" stroke-width="0.8"/>
<text x="288" y="438.9" font-size="10" fill="#404040" stroke="#404040" stroke-width="0.25" font-family="'Liberation Sans', Arial, sans-serif" text-anchor="end" >15</text>
<polyline points="322.42,443.11 339.71,503.76 356.92,511.2 374.29,514.21 391.27,518.09" fill="none" stroke="#3434cc" stroke-width="1.2" stroke-linejoin="round" />
<line x1="322.42" y1="413.06" x2="322.42" y2="471.88" stroke="#3434cc" stroke-width="1.1"/>
<line x1="317.92" y1="413.06" x2="326.92" y2="413.06" stroke="#3434cc" stroke-width="1.1"/>
<line x1="317.92" y1="471.88" x2="326.92" y2="471.88" stroke="#3434cc" stroke-width="1.1"/>
<rect x="319.42" y="440.11" width="6" height="6" fill="#0000ff"/>
<line x1="339.71" y1="481.57" x2="339.71" y2="525.85" stroke="#3434cc" stroke-width="1.1"/>
<line x1="335.21" y1="481.57" x2="344.21" y2="481.57" stroke="#3434cc" stroke-width="1.1"/>
<line x1="335.21" y1="525.85" x2="344.21" y2="525.85" stroke="#3434cc" stroke-width="1.1"/>
<rect x="336.71" y="500.76" width="6" height="6" fill="#0000ff"/>
<line x1="356.92" y1="492.77" x2="356.92" y2="529.72" stroke="#3434cc" stroke-width="1.1"/>
<line x1="352.42" y1="492.77" x2="361.42" y2="492.77" stroke="#3434cc" stroke-width="1.1"/>
<line x1="352.42" y1="529.72" x2="361.42" y2="529.72" stroke="#3434cc" stroke-width="1.1"/>
<rect x="353.92" y="508.2" width="6" height="6" fill="#0000ff"/>
<line x1="374.29" y1="492.13" x2="374.29" y2="536.3" stroke="#3434cc" stroke-width="1.1"/>
<line x1="369.79" y1="492.13" x2="378.79" y2="492.13" stroke="#3434cc" stroke-width="1.1"/>
<line x1="369.79" y1="536.3" x2="378.79" y2="536.3" stroke="#3434cc" stroke-width="1.1"/>
<rect x="371.29" y="511.21" width="6" height="6" fill="#0000ff"/>
<line x1="391.27" y1="491.7" x2="391.27" y2="544.48" stroke="#3434cc" stroke-width="1.1"/>
<line x1="386.77" y1="491.7" x2="395.77" y2="491.7" stroke="#3434cc" stroke-width="1.1"/>
<line x1="386.77" y1="544.48" x2="395.77" y2="544.48" stroke="#3434cc" stroke-width="1.1"/>
<rect x="388.27" y="515.09" width="6" height="6" fill="#0000ff"/>
<polyline points="374.29,437.3 391.27,458.52 409.24,471.98 426.3,503.01 444.28,522.72 461.64,525.85" fill="none" stroke="#d8323a" stroke-width="1.2" stroke-linejoin="round" />
<line x1="374.29" y1="409.29" x2="374.29" y2="466.27" stroke="#d8323a" stroke-width="1.1"/>
<line x1="369.79" y1="409.29" x2="378.79" y2="409.29" stroke="#d8323a" stroke-width="1.1"/>
<line x1="369.79" y1="466.27" x2="378.79" y2="466.27" stroke="#d8323a" stroke-width="1.1"/>
<rect x="371.29" y="434.3" width="6" height="6" fill="#ff0000"/>
<line x1="391.27" y1="432.45" x2="391.27" y2="484.8" stroke="#d8323a" stroke-width="1.1"/>
<line x1="386.77" y1="432.45" x2="395.77" y2="432.45" stroke="#d8323a" stroke-width="1.1"/>
<line x1="386.77" y1="484.8" x2="395.77" y2="484.8" stroke="#d8323a" stroke-width="1.1"/>
<rect x="388.27" y="455.52" width="6" height="6" fill="#ff0000"/>
<line x1="409.24" y1="440.53" x2="409.24" y2="503.87" stroke="#d8323a" stroke-width="1.1"/>
<line x1="404.74" y1="440.53" x2="413.74" y2="440.53" stroke="#d8323a" stroke-width="1.1"/>
<line x1="404.74" y1="503.87" x2="413.74" y2="503.87" stroke="#d8323a" stroke-width="1.1"/>
<rect x="406.24" y="468.98" width="6" height="6" fill="#ff0000"/>
<line x1="426.3" y1="467.57" x2="426.3" y2="537.48" stroke="#d8323a" stroke-width="1.1"/>
<line x1="421.8" y1="467.57" x2="430.8" y2="467.57" stroke="#d8323a" stroke-width="1.1"/>
<line x1="421.8" y1="537.48" x2="430.8" y2="537.48" stroke="#d8323a" stroke-width="1.1"/>
<rect x="423.3" y="500.01" width="6" height="6" fill="#ff0000"/>
<line x1="444.28" y1="497.62" x2="444.28" y2="546.64" stroke="#d8323a" stroke-width="1.1"/>
<line x1="439.78" y1="497.62" x2="448.78" y2="497.62" stroke="#d8323a" stroke-width="1.1"/>
<line x1="439.78" y1="546.64" x2="448.78" y2="546.64" stroke="#d8323a" stroke-width="1.1"/>
<rect x="441.28" y="519.72" width="6" height="6" fill="#ff0000"/>
<line x1="461.64" y1="501.18" x2="461.64" y2="549.87" stroke="#d8323a" stroke-width="1.1"/>
<line x1="457.14" y1="501.18" x2="466.14" y2="501.18" stroke="#d8323a" stroke-width="1.1"/>
<line x1="457.14" y1="549.87" x2="466.14" y2="549.87" stroke="#d8323a" stroke-width="1.1"/>
<rect x="458.64" y="522.85" width="6" height="6" fill="#ff0000"/>
<line x1="407.2" y1="406.8" x2="440.7" y2="406.8" stroke="#4040f0" stroke-width="1.2"/>
<line x1="420.2" y1="403.2" x2="427.7" y2="403.2" stroke="#4040f0" stroke-width="1.4"/>
<line x1="420.2" y1="410.4" x2="427.7" y2="410.4" stroke="#4040f0" stroke-width="1.4"/>
<rect x="420.9" y="403.6" width="6.2" height="6.4" fill="#0000ff"/>
<text x="444.5" y="410.2" font-size="9.3" fill="#303030" stroke="#303030" stroke-width="0.12" font-family="'Liberation Serif', 'Times New Roman', serif" text-anchor="start" >Air</text>
<line x1="407.2" y1="418.7" x2="440.7" y2="418.7" stroke="#f03030" stroke-width="1.2"/>
<line x1="420.2" y1="415.1" x2="427.7" y2="415.1" stroke="#f03030" stroke-width="1.4"/>
<line x1="420.2" y1="422.3" x2="427.7" y2="422.3" stroke="#f03030" stroke-width="1.4"/>
<rect x="420.9" y="415.5" width="6.2" height="6.4" fill="#ff0000"/>
<text x="444.5" y="422.1" font-size="9.3" fill="#303030" stroke="#303030" stroke-width="0.12" font-family="'Liberation Serif', 'Times New Roman', serif" text-anchor="start" >NH<tspan font-size="6.5" dy="2">3</tspan></text>
<text x="294.7" y="408.7" font-size="11.6" fill="#202020" stroke="#202020" stroke-width="0.35" font-family="'Liberation Serif', 'Times New Roman', serif" text-anchor="start" >(e)</text>
<text x="386.7" y="581.1" font-size="11.5" fill="#404040" stroke="#404040" stroke-width="0.25" font-family="'Liberation Serif', 'Times New Roman', serif" text-anchor="middle" >Power (W)</text>
<text x="0" y="0" font-size="11.5" fill="#404040" stroke="#404040" stroke-width="0.25" font-family="'Liberation Serif', 'Times New Roman', serif" text-anchor="middle" dominant-baseline="central" transform="translate(268.6 475.5) rotate(-90)">Breakdown voltage (kV)</text>
</svg>
</body></html>
